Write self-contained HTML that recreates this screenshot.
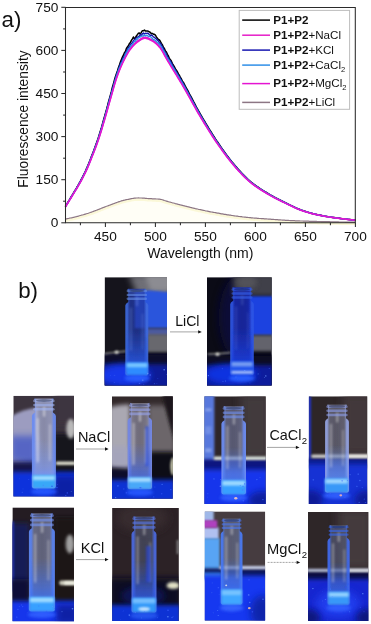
<!DOCTYPE html>
<html><head><meta charset="utf-8"><title>Figure</title>
<style>html,body{margin:0;padding:0;background:#fff;}body{width:371px;height:624px;overflow:hidden;position:relative;font-family:"Liberation Sans",sans-serif;}</style>
</head><body>
<svg width="371" height="624" viewBox="0 0 371 624" style="display:block;position:absolute;left:0;top:0" font-family="'Liberation Sans', sans-serif">
<defs><clipPath id="c0"><rect x="0" y="0" width="62.4" height="108.2"/></clipPath>
<filter id="b3" filterUnits="userSpaceOnUse" x="-20" y="-20" width="120" height="160"><feGaussianBlur stdDeviation="3"/></filter>
<filter id="b2_5" filterUnits="userSpaceOnUse" x="-20" y="-20" width="120" height="160"><feGaussianBlur stdDeviation="2.5"/></filter>
<filter id="b1_0" filterUnits="userSpaceOnUse" x="-20" y="-20" width="120" height="160"><feGaussianBlur stdDeviation="1.0"/></filter>
<filter id="b1_5" filterUnits="userSpaceOnUse" x="-20" y="-20" width="120" height="160"><feGaussianBlur stdDeviation="1.5"/></filter>
<filter id="b2" filterUnits="userSpaceOnUse" x="-20" y="-20" width="120" height="160"><feGaussianBlur stdDeviation="2"/></filter>
<filter id="b0_8" filterUnits="userSpaceOnUse" x="-20" y="-20" width="120" height="160"><feGaussianBlur stdDeviation="0.8"/></filter>
<linearGradient id="g1" x1="0" y1="0" x2="1" y2="0"><stop offset="0" stop-color="#3c68dc" stop-opacity="0.92"/><stop offset="0.09" stop-color="#3c68dc" stop-opacity="0.92"/><stop offset="0.2" stop-color="#2038a4" stop-opacity="0.8"/><stop offset="0.5" stop-color="#2038a4" stop-opacity="0.7200000000000001"/><stop offset="0.8" stop-color="#2038a4" stop-opacity="0.8"/><stop offset="0.91" stop-color="#3c68dc" stop-opacity="0.92"/><stop offset="1" stop-color="#3c68dc" stop-opacity="0.92"/></linearGradient>
<filter id="b0_45" filterUnits="userSpaceOnUse" x="-20" y="-20" width="120" height="160"><feGaussianBlur stdDeviation="0.45"/></filter>
<linearGradient id="g2" x1="0" y1="0" x2="0" y2="1"><stop offset="0" stop-color="#2858e0" stop-opacity="0"/><stop offset="0.35" stop-color="#2858e0" stop-opacity="0"/><stop offset="0.8" stop-color="#2858e0" stop-opacity="0.75"/><stop offset="1" stop-color="#2858e0" stop-opacity="0.8"/></linearGradient>
<filter id="b0_6" filterUnits="userSpaceOnUse" x="-20" y="-20" width="120" height="160"><feGaussianBlur stdDeviation="0.6"/></filter>
<filter id="b0_5" filterUnits="userSpaceOnUse" x="-20" y="-20" width="120" height="160"><feGaussianBlur stdDeviation="0.5"/></filter>
<filter id="b0_4" filterUnits="userSpaceOnUse" x="-20" y="-20" width="120" height="160"><feGaussianBlur stdDeviation="0.4"/></filter>
<filter id="b0_9" filterUnits="userSpaceOnUse" x="-20" y="-20" width="120" height="160"><feGaussianBlur stdDeviation="0.9"/></filter>
<clipPath id="c1"><rect x="0" y="0" width="64.7" height="108.3"/></clipPath>
<filter id="b4" filterUnits="userSpaceOnUse" x="-20" y="-20" width="120" height="160"><feGaussianBlur stdDeviation="4"/></filter>
<filter id="b1_2" filterUnits="userSpaceOnUse" x="-20" y="-20" width="120" height="160"><feGaussianBlur stdDeviation="1.2"/></filter>
<filter id="b1_8" filterUnits="userSpaceOnUse" x="-20" y="-20" width="120" height="160"><feGaussianBlur stdDeviation="1.8"/></filter>
<linearGradient id="g3" x1="0" y1="0" x2="1" y2="0"><stop offset="0" stop-color="#2c54e4" stop-opacity="0.92"/><stop offset="0.09" stop-color="#2c54e4" stop-opacity="0.92"/><stop offset="0.2" stop-color="#182cb4" stop-opacity="0.85"/><stop offset="0.5" stop-color="#182cb4" stop-opacity="0.765"/><stop offset="0.8" stop-color="#182cb4" stop-opacity="0.85"/><stop offset="0.91" stop-color="#2c54e4" stop-opacity="0.92"/><stop offset="1" stop-color="#2c54e4" stop-opacity="0.92"/></linearGradient>
<linearGradient id="g4" x1="0" y1="0" x2="0" y2="1"><stop offset="0" stop-color="#1c40e0" stop-opacity="0"/><stop offset="0.35" stop-color="#1c40e0" stop-opacity="0"/><stop offset="0.8" stop-color="#1c40e0" stop-opacity="0.75"/><stop offset="1" stop-color="#1c40e0" stop-opacity="0.8"/></linearGradient>
<clipPath id="c2"><rect x="0" y="0" width="60.7" height="100.6"/></clipPath>
<linearGradient id="g5" x1="0" y1="0" x2="1" y2="0"><stop offset="0" stop-color="#6c8cf0" stop-opacity="0.95"/><stop offset="0.09" stop-color="#6c8cf0" stop-opacity="0.95"/><stop offset="0.2" stop-color="#b0b8e0" stop-opacity="0.72"/><stop offset="0.5" stop-color="#b0b8e0" stop-opacity="0.648"/><stop offset="0.8" stop-color="#b0b8e0" stop-opacity="0.72"/><stop offset="0.91" stop-color="#6c8cf0" stop-opacity="0.95"/><stop offset="1" stop-color="#6c8cf0" stop-opacity="0.95"/></linearGradient>
<linearGradient id="g6" x1="0" y1="0" x2="0" y2="1"><stop offset="0" stop-color="#7894ec" stop-opacity="0"/><stop offset="0.35" stop-color="#7894ec" stop-opacity="0"/><stop offset="0.8" stop-color="#7894ec" stop-opacity="0.75"/><stop offset="1" stop-color="#7894ec" stop-opacity="0.8"/></linearGradient>
<clipPath id="c3"><rect x="0" y="0" width="60.8" height="102.5"/></clipPath>
<linearGradient id="g7" x1="0" y1="0" x2="1" y2="0"><stop offset="0" stop-color="#7488e4" stop-opacity="0.95"/><stop offset="0.09" stop-color="#7488e4" stop-opacity="0.95"/><stop offset="0.2" stop-color="#a0a0b8" stop-opacity="0.62"/><stop offset="0.5" stop-color="#a0a0b8" stop-opacity="0.558"/><stop offset="0.8" stop-color="#a0a0b8" stop-opacity="0.62"/><stop offset="0.91" stop-color="#7488e4" stop-opacity="0.95"/><stop offset="1" stop-color="#7488e4" stop-opacity="0.95"/></linearGradient>
<linearGradient id="g8" x1="0" y1="0" x2="0" y2="1"><stop offset="0" stop-color="#4c6ce0" stop-opacity="0"/><stop offset="0.35" stop-color="#4c6ce0" stop-opacity="0"/><stop offset="0.8" stop-color="#4c6ce0" stop-opacity="0.75"/><stop offset="1" stop-color="#4c6ce0" stop-opacity="0.8"/></linearGradient>
<clipPath id="c4"><rect x="0" y="0" width="61.4" height="107.8"/></clipPath>
<linearGradient id="g9" x1="0" y1="0" x2="1" y2="0"><stop offset="0" stop-color="#6c8cf0" stop-opacity="0.95"/><stop offset="0.09" stop-color="#6c8cf0" stop-opacity="0.95"/><stop offset="0.2" stop-color="#7880a8" stop-opacity="0.62"/><stop offset="0.5" stop-color="#7880a8" stop-opacity="0.558"/><stop offset="0.8" stop-color="#7880a8" stop-opacity="0.62"/><stop offset="0.91" stop-color="#6c8cf0" stop-opacity="0.95"/><stop offset="1" stop-color="#6c8cf0" stop-opacity="0.95"/></linearGradient>
<linearGradient id="g10" x1="0" y1="0" x2="0" y2="1"><stop offset="0" stop-color="#4878f0" stop-opacity="0"/><stop offset="0.35" stop-color="#4878f0" stop-opacity="0"/><stop offset="0.8" stop-color="#4878f0" stop-opacity="0.75"/><stop offset="1" stop-color="#4878f0" stop-opacity="0.8"/></linearGradient>
<clipPath id="c5"><rect x="0" y="0" width="58.4" height="107.7"/></clipPath>
<linearGradient id="g11" x1="0" y1="0" x2="1" y2="0"><stop offset="0" stop-color="#98a8e8" stop-opacity="0.9"/><stop offset="0.09" stop-color="#98a8e8" stop-opacity="0.9"/><stop offset="0.2" stop-color="#7c8098" stop-opacity="0.6"/><stop offset="0.5" stop-color="#7c8098" stop-opacity="0.54"/><stop offset="0.8" stop-color="#7c8098" stop-opacity="0.6"/><stop offset="0.91" stop-color="#98a8e8" stop-opacity="0.9"/><stop offset="1" stop-color="#98a8e8" stop-opacity="0.9"/></linearGradient>
<linearGradient id="g12" x1="0" y1="0" x2="0" y2="1"><stop offset="0" stop-color="#5888f0" stop-opacity="0"/><stop offset="0.35" stop-color="#5888f0" stop-opacity="0"/><stop offset="0.8" stop-color="#5888f0" stop-opacity="0.75"/><stop offset="1" stop-color="#5888f0" stop-opacity="0.8"/></linearGradient>
<clipPath id="c6"><rect x="0" y="0" width="61.6" height="113.8"/></clipPath>
<filter id="b1_4" filterUnits="userSpaceOnUse" x="-20" y="-20" width="120" height="160"><feGaussianBlur stdDeviation="1.4"/></filter>
<filter id="b1_3" filterUnits="userSpaceOnUse" x="-20" y="-20" width="120" height="160"><feGaussianBlur stdDeviation="1.3"/></filter>
<linearGradient id="g13" x1="0" y1="0" x2="1" y2="0"><stop offset="0" stop-color="#5c84f0" stop-opacity="0.95"/><stop offset="0.09" stop-color="#5c84f0" stop-opacity="0.95"/><stop offset="0.2" stop-color="#8890b4" stop-opacity="0.66"/><stop offset="0.5" stop-color="#8890b4" stop-opacity="0.5940000000000001"/><stop offset="0.8" stop-color="#8890b4" stop-opacity="0.66"/><stop offset="0.91" stop-color="#5c84f0" stop-opacity="0.95"/><stop offset="1" stop-color="#5c84f0" stop-opacity="0.95"/></linearGradient>
<linearGradient id="g14" x1="0" y1="0" x2="0" y2="1"><stop offset="0" stop-color="#4070f0" stop-opacity="0"/><stop offset="0.35" stop-color="#4070f0" stop-opacity="0"/><stop offset="0.8" stop-color="#4070f0" stop-opacity="0.75"/><stop offset="1" stop-color="#4070f0" stop-opacity="0.8"/></linearGradient>
<clipPath id="c7"><rect x="0" y="0" width="66.7" height="112.9"/></clipPath>
<linearGradient id="g15" x1="0" y1="0" x2="1" y2="0"><stop offset="0" stop-color="#4c6ce4" stop-opacity="0.9"/><stop offset="0.09" stop-color="#4c6ce4" stop-opacity="0.9"/><stop offset="0.2" stop-color="#545c78" stop-opacity="0.6"/><stop offset="0.5" stop-color="#545c78" stop-opacity="0.54"/><stop offset="0.8" stop-color="#545c78" stop-opacity="0.6"/><stop offset="0.91" stop-color="#4c6ce4" stop-opacity="0.9"/><stop offset="1" stop-color="#4c6ce4" stop-opacity="0.9"/></linearGradient>
<linearGradient id="g16" x1="0" y1="0" x2="0" y2="1"><stop offset="0" stop-color="#3058e0" stop-opacity="0"/><stop offset="0.35" stop-color="#3058e0" stop-opacity="0"/><stop offset="0.8" stop-color="#3058e0" stop-opacity="0.75"/><stop offset="1" stop-color="#3058e0" stop-opacity="0.8"/></linearGradient>
<clipPath id="c8"><rect x="0" y="0" width="60.4" height="109.2"/></clipPath>
<filter id="b1" filterUnits="userSpaceOnUse" x="-20" y="-20" width="120" height="160"><feGaussianBlur stdDeviation="1"/></filter>
<filter id="b3_5" filterUnits="userSpaceOnUse" x="-20" y="-20" width="120" height="160"><feGaussianBlur stdDeviation="3.5"/></filter>
<linearGradient id="g17" x1="0" y1="0" x2="1" y2="0"><stop offset="0" stop-color="#4878f0" stop-opacity="0.95"/><stop offset="0.09" stop-color="#4878f0" stop-opacity="0.95"/><stop offset="0.2" stop-color="#687498" stop-opacity="0.62"/><stop offset="0.5" stop-color="#687498" stop-opacity="0.558"/><stop offset="0.8" stop-color="#687498" stop-opacity="0.62"/><stop offset="0.91" stop-color="#4878f0" stop-opacity="0.95"/><stop offset="1" stop-color="#4878f0" stop-opacity="0.95"/></linearGradient>
<linearGradient id="g18" x1="0" y1="0" x2="0" y2="1"><stop offset="0" stop-color="#3870f8" stop-opacity="0"/><stop offset="0.35" stop-color="#3870f8" stop-opacity="0"/><stop offset="0.8" stop-color="#3870f8" stop-opacity="0.75"/><stop offset="1" stop-color="#3870f8" stop-opacity="0.8"/></linearGradient>
<clipPath id="c9"><rect x="0" y="0" width="60.3" height="108.9"/></clipPath>
<linearGradient id="g19" x1="0" y1="0" x2="1" y2="0"><stop offset="0" stop-color="#4068e8" stop-opacity="0.95"/><stop offset="0.09" stop-color="#4068e8" stop-opacity="0.95"/><stop offset="0.2" stop-color="#586080" stop-opacity="0.62"/><stop offset="0.5" stop-color="#586080" stop-opacity="0.558"/><stop offset="0.8" stop-color="#586080" stop-opacity="0.62"/><stop offset="0.91" stop-color="#4068e8" stop-opacity="0.95"/><stop offset="1" stop-color="#4068e8" stop-opacity="0.95"/></linearGradient>
<linearGradient id="g20" x1="0" y1="0" x2="0" y2="1"><stop offset="0" stop-color="#3060e8" stop-opacity="0"/><stop offset="0.35" stop-color="#3060e8" stop-opacity="0"/><stop offset="0.8" stop-color="#3060e8" stop-opacity="0.75"/><stop offset="1" stop-color="#3060e8" stop-opacity="0.8"/></linearGradient></defs>
<rect width="371" height="624" fill="#fff"/>
<path d="M65.4 219.1 L66.4 218.9 L67.4 218.7 L68.4 218.5 L69.4 218.2 L70.4 218.0 L71.4 217.8 L72.4 217.6 L73.4 217.3 L74.4 217.1 L75.4 216.8 L76.4 216.6 L77.4 216.3 L78.4 216.1 L79.4 215.8 L80.4 215.5 L81.4 215.2 L82.4 215.0 L83.4 214.7 L84.4 214.4 L85.4 214.1 L86.4 213.8 L87.4 213.5 L88.4 213.2 L89.4 212.8 L90.4 212.5 L91.4 212.1 L92.4 211.8 L93.4 211.4 L94.4 211.0 L95.4 210.6 L96.4 210.3 L97.4 209.9 L98.4 209.5 L99.4 209.1 L100.4 208.7 L101.4 208.3 L102.4 207.9 L103.4 207.5 L104.4 207.1 L105.4 206.7 L106.4 206.3 L107.4 206.0 L108.4 205.6 L109.4 205.2 L110.4 204.9 L111.4 204.5 L112.4 204.1 L113.4 203.7 L114.4 203.4 L115.4 203.0 L116.4 202.6 L117.4 202.3 L118.4 201.9 L119.4 201.6 L120.4 201.3 L121.4 200.9 L122.4 200.7 L123.4 200.4 L124.4 200.2 L125.4 199.9 L126.4 199.7 L127.4 199.5 L128.4 199.3 L129.4 199.1 L130.4 198.9 L131.4 198.7 L132.4 198.5 L133.4 198.3 L134.4 198.2 L135.4 198.1 L136.4 198.0 L137.4 198.0 L138.4 197.9 L139.4 198.0 L140.4 198.0 L141.4 198.0 L142.4 198.1 L143.4 198.2 L144.4 198.2 L145.4 198.3 L146.4 198.4 L147.4 198.5 L148.4 198.6 L149.4 198.6 L150.4 198.7 L151.4 198.7 L152.4 198.8 L153.4 198.8 L154.4 198.9 L155.4 198.9 L156.4 199.0 L157.4 199.0 L158.4 199.1 L159.4 199.2 L160.4 199.3 L161.4 199.5 L162.4 199.8 L163.4 200.1 L164.4 200.5 L165.4 200.8 L166.4 201.1 L167.4 201.4 L168.4 201.7 L169.4 202.0 L170.4 202.2 L171.4 202.5 L172.4 202.8 L173.4 203.0 L174.4 203.3 L175.4 203.6 L176.4 203.8 L177.4 204.1 L178.4 204.4 L179.4 204.6 L180.4 204.9 L181.4 205.1 L182.4 205.4 L183.4 205.7 L184.4 205.9 L185.4 206.2 L186.4 206.4 L187.4 206.7 L188.4 206.9 L189.4 207.1 L190.4 207.4 L191.4 207.6 L192.4 207.9 L193.4 208.1 L194.4 208.3 L195.4 208.6 L196.4 208.8 L197.4 209.0 L198.4 209.3 L199.4 209.5 L200.4 209.7 L201.4 209.9 L202.4 210.1 L203.4 210.3 L204.4 210.5 L205.4 210.8 L206.4 211.0 L207.4 211.2 L208.4 211.4 L209.4 211.6 L210.4 211.8 L211.4 212.0 L212.4 212.1 L213.4 212.3 L214.4 212.5 L215.4 212.7 L216.4 212.9 L217.4 213.1 L218.4 213.2 L219.4 213.4 L220.4 213.6 L221.4 213.8 L222.4 213.9 L223.4 214.1 L224.4 214.3 L225.4 214.4 L226.4 214.6 L227.4 214.8 L228.4 214.9 L229.4 215.1 L230.4 215.2 L231.4 215.4 L232.4 215.5 L233.4 215.7 L234.4 215.8 L235.4 216.0 L236.4 216.1 L237.4 216.2 L238.4 216.4 L239.4 216.5 L240.4 216.6 L241.4 216.7 L242.4 216.9 L243.4 217.0 L244.4 217.1 L245.4 217.2 L246.4 217.3 L247.4 217.4 L248.4 217.5 L249.4 217.6 L250.4 217.7 L251.4 217.8 L252.4 217.9 L253.4 218.0 L254.4 218.1 L255.4 218.2 L256.4 218.2 L257.4 218.3 L258.4 218.4 L259.4 218.5 L260.4 218.5 L261.4 218.6 L262.4 218.7 L263.4 218.7 L264.4 218.8 L265.4 218.9 L266.4 218.9 L267.4 219.0 L268.4 219.1 L269.4 219.1 L270.4 219.2 L271.4 219.3 L272.4 219.3 L273.4 219.4 L274.4 219.5 L275.4 219.6 L276.4 219.6 L277.4 219.7 L278.4 219.8 L279.4 219.8 L280.4 219.9 L281.4 220.0 L282.4 220.1 L283.4 220.1 L284.4 220.2 L285.4 220.3 L286.4 220.3 L287.4 220.4 L288.4 220.4 L289.4 220.5 L290.4 220.6 L291.4 220.6 L292.4 220.7 L293.4 220.7 L294.4 220.7 L295.4 220.8 L296.4 220.8 L297.4 220.9 L298.4 220.9 L299.4 220.9 L300.4 221.0 L301.4 221.0 L302.4 221.0 L303.4 221.1 L304.4 221.1 L305.4 221.1 L306.4 221.2 L307.4 221.2 L308.4 221.2 L309.4 221.3 L310.4 221.3 L311.4 221.3 L312.4 221.3 L313.4 221.4 L314.4 221.4 L315.4 221.4 L316.4 221.4 L317.4 221.5 L318.4 221.5 L319.4 221.5 L320.4 221.5 L321.4 221.6 L322.4 221.6 L323.4 221.6 L324.4 221.6 L325.4 221.7 L326.4 221.7 L327.4 221.7 L328.4 221.7 L329.4 221.7 L330.4 221.8 L331.4 221.8 L332.4 221.8 L333.4 221.8 L334.4 221.8 L335.4 221.9 L336.4 221.9 L337.4 221.9 L338.4 221.9 L339.4 222.0 L340.4 222.0 L341.4 222.0 L342.4 222.0 L343.4 222.0 L344.4 222.0 L345.4 222.1 L346.4 222.1 L347.4 222.1 L348.4 222.1 L349.4 222.1 L350.4 222.1 L351.4 222.2 L352.4 222.2 L353.4 222.2 L354.4 222.2 L355.4 222.2 L355.4 222.8 L65.4 222.8 Z" fill="#fffef6" stroke="none"/>
<path d="M65.4 219.1 L66.4 218.9 L67.4 218.7 L68.4 218.5 L69.4 218.2 L70.4 218.0 L71.4 217.8 L72.4 217.6 L73.4 217.3 L74.4 217.1 L75.4 216.8 L76.4 216.6 L77.4 216.3 L78.4 216.1 L79.4 215.8 L80.4 215.5 L81.4 215.2 L82.4 215.0 L83.4 214.7 L84.4 214.4 L85.4 214.1 L86.4 213.8 L87.4 213.5 L88.4 213.2 L89.4 212.8 L90.4 212.5 L91.4 212.1 L92.4 211.8 L93.4 211.4 L94.4 211.0 L95.4 210.6 L96.4 210.3 L97.4 209.9 L98.4 209.5 L99.4 209.1 L100.4 208.7 L101.4 208.3 L102.4 207.9 L103.4 207.5 L104.4 207.1 L105.4 206.7 L106.4 206.3 L107.4 206.0 L108.4 205.6 L109.4 205.2 L110.4 204.9 L111.4 204.5 L112.4 204.1 L113.4 203.7 L114.4 203.4 L115.4 203.0 L116.4 202.6 L117.4 202.3 L118.4 201.9 L119.4 201.6 L120.4 201.3 L121.4 200.9 L122.4 200.7 L123.4 200.4 L124.4 200.2 L125.4 199.9 L126.4 199.7 L127.4 199.5 L128.4 199.3 L129.4 199.1 L130.4 198.9 L131.4 198.7 L132.4 198.5 L133.4 198.3 L134.4 198.2 L135.4 198.1 L136.4 198.0 L137.4 198.0 L138.4 197.9 L139.4 198.0 L140.4 198.0 L141.4 198.0 L142.4 198.1 L143.4 198.2 L144.4 198.2 L145.4 198.3 L146.4 198.4 L147.4 198.5 L148.4 198.6 L149.4 198.6 L150.4 198.7 L151.4 198.7 L152.4 198.8 L153.4 198.8 L154.4 198.9 L155.4 198.9 L156.4 199.0 L157.4 199.0 L158.4 199.1 L159.4 199.2 L160.4 199.3 L161.4 199.5 L162.4 199.8 L163.4 200.1 L164.4 200.5 L165.4 200.8 L166.4 201.1 L167.4 201.4 L168.4 201.7 L169.4 202.0 L170.4 202.2 L171.4 202.5 L172.4 202.8 L173.4 203.0 L174.4 203.3 L175.4 203.6 L176.4 203.8 L177.4 204.1 L178.4 204.4 L179.4 204.6 L180.4 204.9 L181.4 205.1 L182.4 205.4 L183.4 205.7 L184.4 205.9 L185.4 206.2 L186.4 206.4 L187.4 206.7 L188.4 206.9 L189.4 207.1 L190.4 207.4 L191.4 207.6 L192.4 207.9 L193.4 208.1 L194.4 208.3 L195.4 208.6 L196.4 208.8 L197.4 209.0 L198.4 209.3 L199.4 209.5 L200.4 209.7 L201.4 209.9 L202.4 210.1 L203.4 210.3 L204.4 210.5 L205.4 210.8 L206.4 211.0 L207.4 211.2 L208.4 211.4 L209.4 211.6 L210.4 211.8 L211.4 212.0 L212.4 212.1 L213.4 212.3 L214.4 212.5 L215.4 212.7 L216.4 212.9 L217.4 213.1 L218.4 213.2 L219.4 213.4 L220.4 213.6 L221.4 213.8 L222.4 213.9 L223.4 214.1 L224.4 214.3 L225.4 214.4 L226.4 214.6 L227.4 214.8 L228.4 214.9 L229.4 215.1 L230.4 215.2 L231.4 215.4 L232.4 215.5 L233.4 215.7 L234.4 215.8 L235.4 216.0 L236.4 216.1 L237.4 216.2 L238.4 216.4 L239.4 216.5 L240.4 216.6 L241.4 216.7 L242.4 216.9 L243.4 217.0 L244.4 217.1 L245.4 217.2 L246.4 217.3 L247.4 217.4 L248.4 217.5 L249.4 217.6 L250.4 217.7 L251.4 217.8 L252.4 217.9 L253.4 218.0 L254.4 218.1 L255.4 218.2 L256.4 218.2 L257.4 218.3 L258.4 218.4 L259.4 218.5 L260.4 218.5 L261.4 218.6 L262.4 218.7 L263.4 218.7 L264.4 218.8 L265.4 218.9 L266.4 218.9 L267.4 219.0 L268.4 219.1 L269.4 219.1 L270.4 219.2 L271.4 219.3 L272.4 219.3 L273.4 219.4 L274.4 219.5 L275.4 219.6 L276.4 219.6 L277.4 219.7 L278.4 219.8 L279.4 219.8 L280.4 219.9 L281.4 220.0 L282.4 220.1 L283.4 220.1 L284.4 220.2 L285.4 220.3 L286.4 220.3 L287.4 220.4 L288.4 220.4 L289.4 220.5 L290.4 220.6 L291.4 220.6 L292.4 220.7 L293.4 220.7 L294.4 220.7 L295.4 220.8 L296.4 220.8 L297.4 220.9 L298.4 220.9 L299.4 220.9 L300.4 221.0 L301.4 221.0 L302.4 221.0 L303.4 221.1 L304.4 221.1 L305.4 221.1 L306.4 221.2 L307.4 221.2 L308.4 221.2 L309.4 221.3 L310.4 221.3 L311.4 221.3 L312.4 221.3 L313.4 221.4 L314.4 221.4 L315.4 221.4 L316.4 221.4 L317.4 221.5 L318.4 221.5 L319.4 221.5 L320.4 221.5 L321.4 221.6 L322.4 221.6 L323.4 221.6 L324.4 221.6 L325.4 221.7 L326.4 221.7 L327.4 221.7 L328.4 221.7 L329.4 221.7 L330.4 221.8 L331.4 221.8 L332.4 221.8 L333.4 221.8 L334.4 221.8 L335.4 221.9 L336.4 221.9 L337.4 221.9 L338.4 221.9 L339.4 222.0 L340.4 222.0 L341.4 222.0 L342.4 222.0 L343.4 222.0 L344.4 222.0 L345.4 222.1 L346.4 222.1 L347.4 222.1 L348.4 222.1 L349.4 222.1 L350.4 222.1 L351.4 222.2 L352.4 222.2 L353.4 222.2 L354.4 222.2 L355.4 222.2" transform="translate(0 1.6)" fill="none" stroke="#fbf8d8" stroke-width="2.6"/>
<g fill="none" stroke-width="1.6" stroke-linejoin="round">
<path d="M65.4 206.5 L66.4 204.9 L67.4 203.2 L68.4 201.5 L69.4 199.9 L70.4 198.2 L71.4 196.5 L72.4 194.8 L73.4 193.1 L74.4 191.5 L75.4 189.8 L76.4 188.2 L77.4 186.5 L78.4 184.7 L79.4 182.9 L80.4 181.1 L81.4 179.2 L82.4 177.3 L83.4 175.3 L84.4 173.3 L85.4 171.2 L86.4 168.9 L87.4 166.6 L88.4 164.2 L89.4 161.7 L90.4 159.2 L91.4 156.6 L92.4 154.0 L93.4 151.4 L94.4 148.7 L95.4 146.0 L96.4 143.2 L97.4 140.4 L98.4 137.4 L99.4 134.3 L100.4 131.0 L101.4 127.7 L102.4 124.1 L103.4 120.4 L104.4 117.0 L105.4 113.5 L106.4 110.0 L107.4 106.3 L108.4 102.1 L109.4 98.7 L110.4 95.2 L111.4 91.4 L112.4 87.2 L113.4 84.1 L114.4 80.3 L115.4 76.8 L116.4 73.7 L117.4 71.0 L118.4 67.8 L119.4 65.1 L120.4 62.1 L121.4 59.5 L122.4 57.1 L123.4 55.2 L124.4 52.8 L125.4 51.6 L126.4 48.5 L127.4 47.0 L128.4 45.8 L129.4 43.6 L130.4 42.6 L131.4 40.4 L132.4 38.8 L133.4 37.0 L134.4 38.6 L135.4 37.7 L136.4 36.0 L137.4 34.6 L138.4 33.3 L139.4 33.0 L140.4 34.3 L141.4 32.2 L142.4 30.7 L143.4 30.8 L144.4 30.1 L145.4 30.9 L146.4 31.1 L147.4 31.1 L148.4 31.3 L149.4 31.9 L150.4 32.5 L151.4 33.7 L152.4 33.4 L153.4 34.3 L154.4 34.3 L155.4 35.1 L156.4 36.8 L157.4 38.3 L158.4 39.5 L159.4 40.0 L160.4 41.5 L161.4 43.3 L162.4 44.9 L163.4 47.2 L164.4 48.4 L165.4 51.0 L166.4 52.1 L167.4 54.3 L168.4 56.0 L169.4 58.5 L170.4 59.7 L171.4 61.2 L172.4 63.6 L173.4 65.1 L174.4 66.8 L175.4 68.9 L176.4 70.2 L177.4 71.8 L178.4 73.9 L179.4 75.4 L180.4 77.5 L181.4 79.0 L182.4 81.1 L183.4 82.4 L184.4 84.4 L185.4 86.3 L186.4 88.2 L187.4 89.9 L188.4 91.7 L189.4 93.9 L190.4 95.6 L191.4 97.4 L192.4 99.4 L193.4 101.4 L194.4 103.2 L195.4 105.1 L196.4 107.0 L197.4 108.8 L198.4 110.6 L199.4 112.3 L200.4 114.1 L201.4 115.8 L202.4 117.6 L203.4 119.3 L204.4 121.0 L205.4 122.7 L206.4 124.3 L207.4 126.0 L208.4 127.7 L209.4 129.3 L210.4 130.9 L211.4 132.5 L212.4 134.1 L213.4 135.7 L214.4 137.2 L215.4 138.8 L216.4 140.3 L217.4 141.8 L218.4 143.2 L219.4 144.7 L220.4 146.2 L221.4 147.6 L222.4 149.1 L223.4 150.5 L224.4 151.9 L225.4 153.3 L226.4 154.6 L227.4 156.0 L228.4 157.3 L229.4 158.6 L230.4 159.9 L231.4 161.2 L232.4 162.4 L233.4 163.6 L234.4 164.8 L235.4 166.0 L236.4 167.1 L237.4 168.3 L238.4 169.4 L239.4 170.5 L240.4 171.6 L241.4 172.7 L242.4 173.8 L243.4 174.8 L244.4 175.8 L245.4 176.8 L246.4 177.8 L247.4 178.8 L248.4 179.7 L249.4 180.6 L250.4 181.5 L251.4 182.3 L252.4 183.1 L253.4 183.9 L254.4 184.6 L255.4 185.3 L256.4 186.1 L257.4 186.7 L258.4 187.4 L259.4 188.1 L260.4 188.8 L261.4 189.4 L262.4 190.1 L263.4 190.7 L264.4 191.3 L265.4 191.9 L266.4 192.5 L267.4 193.1 L268.4 193.7 L269.4 194.3 L270.4 194.9 L271.4 195.5 L272.4 196.0 L273.4 196.6 L274.4 197.1 L275.4 197.7 L276.4 198.2 L277.4 198.7 L278.4 199.2 L279.4 199.7 L280.4 200.2 L281.4 200.7 L282.4 201.2 L283.4 201.7 L284.4 202.2 L285.4 202.7 L286.4 203.2 L287.4 203.7 L288.4 204.2 L289.4 204.6 L290.4 205.1 L291.4 205.6 L292.4 206.1 L293.4 206.6 L294.4 207.1 L295.4 207.6 L296.4 208.1 L297.4 208.5 L298.4 208.9 L299.4 209.3 L300.4 209.7 L301.4 210.1 L302.4 210.4 L303.4 210.8 L304.4 211.1 L305.4 211.4 L306.4 211.8 L307.4 212.1 L308.4 212.4 L309.4 212.7 L310.4 212.9 L311.4 213.2 L312.4 213.5 L313.4 213.7 L314.4 214.0 L315.4 214.2 L316.4 214.4 L317.4 214.7 L318.4 214.9 L319.4 215.1 L320.4 215.3 L321.4 215.5 L322.4 215.7 L323.4 215.9 L324.4 216.1 L325.4 216.2 L326.4 216.4 L327.4 216.6 L328.4 216.7 L329.4 216.9 L330.4 217.1 L331.4 217.2 L332.4 217.4 L333.4 217.5 L334.4 217.6 L335.4 217.8 L336.4 217.9 L337.4 218.0 L338.4 218.2 L339.4 218.3 L340.4 218.4 L341.4 218.6 L342.4 218.7 L343.4 218.8 L344.4 218.9 L345.4 219.1 L346.4 219.2 L347.4 219.3 L348.4 219.4 L349.4 219.5 L350.4 219.6 L351.4 219.8 L352.4 219.9 L353.4 220.0 L354.4 220.1 L355.4 220.2" stroke="#000" stroke-width="1.5"/>
<path d="M65.4 206.8 L66.4 205.2 L67.4 203.5 L68.4 201.9 L69.4 200.3 L70.4 198.6 L71.4 197.0 L72.4 195.3 L73.4 193.7 L74.4 192.1 L75.4 190.4 L76.4 188.8 L77.4 187.1 L78.4 185.4 L79.4 183.7 L80.4 181.9 L81.4 180.0 L82.4 178.2 L83.4 176.2 L84.4 174.2 L85.4 172.2 L86.4 170.0 L87.4 167.8 L88.4 165.4 L89.4 163.0 L90.4 160.5 L91.4 158.0 L92.4 155.5 L93.4 152.9 L94.4 150.3 L95.4 147.7 L96.4 145.0 L97.4 142.2 L98.4 139.3 L99.4 136.3 L100.4 133.2 L101.4 129.9 L102.4 126.5 L103.4 123.1 L104.4 119.7 L105.4 116.2 L106.4 112.7 L107.4 109.1 L108.4 105.5 L109.4 102.0 L110.4 98.5 L111.4 95.0 L112.4 91.5 L113.4 87.9 L114.4 84.4 L115.4 81.1 L116.4 77.9 L117.4 75.0 L118.4 72.3 L119.4 69.7 L120.4 67.2 L121.4 64.9 L122.4 62.7 L123.4 60.6 L124.4 58.6 L125.4 56.6 L126.4 54.7 L127.4 52.9 L128.4 51.3 L129.4 49.8 L130.4 48.4 L131.4 47.2 L132.4 46.0 L133.4 44.8 L134.4 43.8 L135.4 42.8 L136.4 41.9 L137.4 41.1 L138.4 40.4 L139.4 39.8 L140.4 39.1 L141.4 38.5 L142.4 38.0 L143.4 37.6 L144.4 37.3 L145.4 37.3 L146.4 37.5 L147.4 37.8 L148.4 38.1 L149.4 38.6 L150.4 39.1 L151.4 39.6 L152.4 40.1 L153.4 40.7 L154.4 41.4 L155.4 42.2 L156.4 43.1 L157.4 44.1 L158.4 45.1 L159.4 46.2 L160.4 47.4 L161.4 48.9 L162.4 50.5 L163.4 52.3 L164.4 54.2 L165.4 56.1 L166.4 57.9 L167.4 59.6 L168.4 61.3 L169.4 62.9 L170.4 64.6 L171.4 66.2 L172.4 67.9 L173.4 69.5 L174.4 71.1 L175.4 72.8 L176.4 74.4 L177.4 76.1 L178.4 77.7 L179.4 79.4 L180.4 81.1 L181.4 82.7 L182.4 84.4 L183.4 86.1 L184.4 87.9 L185.4 89.6 L186.4 91.4 L187.4 93.2 L188.4 95.0 L189.4 96.8 L190.4 98.6 L191.4 100.4 L192.4 102.2 L193.4 104.0 L194.4 105.8 L195.4 107.6 L196.4 109.4 L197.4 111.2 L198.4 112.9 L199.4 114.7 L200.4 116.3 L201.4 118.0 L202.4 119.7 L203.4 121.3 L204.4 123.0 L205.4 124.6 L206.4 126.3 L207.4 127.9 L208.4 129.5 L209.4 131.1 L210.4 132.6 L211.4 134.2 L212.4 135.8 L213.4 137.3 L214.4 138.8 L215.4 140.3 L216.4 141.8 L217.4 143.2 L218.4 144.7 L219.4 146.1 L220.4 147.5 L221.4 148.9 L222.4 150.4 L223.4 151.7 L224.4 153.1 L225.4 154.5 L226.4 155.8 L227.4 157.2 L228.4 158.5 L229.4 159.7 L230.4 161.0 L231.4 162.2 L232.4 163.5 L233.4 164.6 L234.4 165.8 L235.4 167.0 L236.4 168.1 L237.4 169.2 L238.4 170.3 L239.4 171.4 L240.4 172.5 L241.4 173.6 L242.4 174.6 L243.4 175.6 L244.4 176.6 L245.4 177.6 L246.4 178.6 L247.4 179.5 L248.4 180.4 L249.4 181.3 L250.4 182.2 L251.4 183.0 L252.4 183.8 L253.4 184.5 L254.4 185.3 L255.4 186.0 L256.4 186.7 L257.4 187.3 L258.4 188.0 L259.4 188.7 L260.4 189.3 L261.4 190.0 L262.4 190.6 L263.4 191.2 L264.4 191.8 L265.4 192.4 L266.4 193.0 L267.4 193.6 L268.4 194.2 L269.4 194.8 L270.4 195.4 L271.4 195.9 L272.4 196.5 L273.4 197.0 L274.4 197.6 L275.4 198.1 L276.4 198.6 L277.4 199.1 L278.4 199.6 L279.4 200.1 L280.4 200.6 L281.4 201.1 L282.4 201.6 L283.4 202.1 L284.4 202.5 L285.4 203.0 L286.4 203.5 L287.4 204.0 L288.4 204.5 L289.4 205.0 L290.4 205.4 L291.4 205.9 L292.4 206.4 L293.4 206.9 L294.4 207.4 L295.4 207.9 L296.4 208.3 L297.4 208.7 L298.4 209.2 L299.4 209.6 L300.4 209.9 L301.4 210.3 L302.4 210.6 L303.4 211.0 L304.4 211.3 L305.4 211.6 L306.4 211.9 L307.4 212.2 L308.4 212.5 L309.4 212.8 L310.4 213.1 L311.4 213.4 L312.4 213.6 L313.4 213.9 L314.4 214.1 L315.4 214.3 L316.4 214.6 L317.4 214.8 L318.4 215.0 L319.4 215.2 L320.4 215.4 L321.4 215.6 L322.4 215.8 L323.4 216.0 L324.4 216.2 L325.4 216.3 L326.4 216.5 L327.4 216.7 L328.4 216.8 L329.4 217.0 L330.4 217.2 L331.4 217.3 L332.4 217.4 L333.4 217.6 L334.4 217.7 L335.4 217.9 L336.4 218.0 L337.4 218.1 L338.4 218.3 L339.4 218.4 L340.4 218.5 L341.4 218.6 L342.4 218.8 L343.4 218.9 L344.4 219.0 L345.4 219.1 L346.4 219.2 L347.4 219.4 L348.4 219.5 L349.4 219.6 L350.4 219.7 L351.4 219.8 L352.4 219.9 L353.4 220.0 L354.4 220.1 L355.4 220.2" stroke="#e61ec8"/>
<path d="M65.4 206.6 L66.4 205.0 L67.4 203.3 L68.4 201.7 L69.4 200.0 L70.4 198.4 L71.4 196.7 L72.4 195.0 L73.4 193.3 L74.4 191.7 L75.4 190.0 L76.4 188.4 L77.4 186.7 L78.4 185.0 L79.4 183.2 L80.4 181.4 L81.4 179.5 L82.4 177.6 L83.4 175.6 L84.4 173.6 L85.4 171.5 L86.4 169.3 L87.4 167.1 L88.4 164.7 L89.4 162.2 L90.4 159.7 L91.4 157.1 L92.4 154.6 L93.4 152.0 L94.4 149.3 L95.4 146.6 L96.4 143.8 L97.4 141.1 L98.4 138.1 L99.4 135.0 L100.4 131.7 L101.4 128.4 L102.4 125.0 L103.4 121.5 L104.4 118.0 L105.4 114.5 L106.4 110.8 L107.4 107.4 L108.4 103.4 L109.4 99.7 L110.4 96.3 L111.4 92.7 L112.4 89.1 L113.4 85.6 L114.4 81.9 L115.4 78.3 L116.4 75.3 L117.4 72.2 L118.4 69.4 L119.4 66.6 L120.4 63.9 L121.4 61.9 L122.4 59.4 L123.4 57.3 L124.4 55.8 L125.4 53.3 L126.4 51.3 L127.4 49.4 L128.4 47.6 L129.4 46.8 L130.4 44.7 L131.4 43.6 L132.4 42.7 L133.4 40.8 L134.4 39.6 L135.4 39.1 L136.4 37.6 L137.4 37.3 L138.4 36.4 L139.4 36.2 L140.4 34.4 L141.4 35.5 L142.4 33.9 L143.4 33.1 L144.4 34.1 L145.4 33.3 L146.4 33.4 L147.4 33.3 L148.4 33.5 L149.4 34.7 L150.4 35.6 L151.4 35.0 L152.4 35.6 L153.4 36.9 L154.4 37.4 L155.4 38.2 L156.4 39.0 L157.4 40.2 L158.4 40.8 L159.4 43.0 L160.4 43.4 L161.4 45.1 L162.4 47.1 L163.4 48.5 L164.4 51.5 L165.4 52.4 L166.4 54.5 L167.4 56.7 L168.4 58.0 L169.4 59.9 L170.4 61.0 L171.4 62.9 L172.4 64.9 L173.4 66.8 L174.4 68.5 L175.4 70.1 L176.4 71.9 L177.4 73.6 L178.4 75.3 L179.4 77.0 L180.4 78.7 L181.4 80.5 L182.4 82.2 L183.4 83.7 L184.4 85.8 L185.4 87.6 L186.4 89.3 L187.4 91.2 L188.4 93.0 L189.4 94.8 L190.4 96.7 L191.4 98.6 L192.4 100.5 L193.4 102.3 L194.4 104.2 L195.4 106.0 L196.4 107.9 L197.4 109.7 L198.4 111.4 L199.4 113.2 L200.4 114.9 L201.4 116.6 L202.4 118.3 L203.4 120.0 L204.4 121.7 L205.4 123.4 L206.4 125.0 L207.4 126.7 L208.4 128.3 L209.4 129.9 L210.4 131.5 L211.4 133.1 L212.4 134.7 L213.4 136.3 L214.4 137.8 L215.4 139.3 L216.4 140.8 L217.4 142.3 L218.4 143.8 L219.4 145.2 L220.4 146.7 L221.4 148.1 L222.4 149.5 L223.4 150.9 L224.4 152.3 L225.4 153.7 L226.4 155.1 L227.4 156.4 L228.4 157.7 L229.4 159.0 L230.4 160.3 L231.4 161.6 L232.4 162.8 L233.4 164.0 L234.4 165.2 L235.4 166.3 L236.4 167.5 L237.4 168.6 L238.4 169.7 L239.4 170.8 L240.4 171.9 L241.4 173.0 L242.4 174.1 L243.4 175.1 L244.4 176.1 L245.4 177.1 L246.4 178.1 L247.4 179.0 L248.4 180.0 L249.4 180.8 L250.4 181.7 L251.4 182.5 L252.4 183.3 L253.4 184.1 L254.4 184.8 L255.4 185.6 L256.4 186.3 L257.4 187.0 L258.4 187.6 L259.4 188.3 L260.4 189.0 L261.4 189.6 L262.4 190.2 L263.4 190.9 L264.4 191.5 L265.4 192.1 L266.4 192.7 L267.4 193.3 L268.4 193.9 L269.4 194.5 L270.4 195.1 L271.4 195.6 L272.4 196.2 L273.4 196.7 L274.4 197.3 L275.4 197.8 L276.4 198.3 L277.4 198.9 L278.4 199.4 L279.4 199.9 L280.4 200.4 L281.4 200.9 L282.4 201.3 L283.4 201.8 L284.4 202.3 L285.4 202.8 L286.4 203.3 L287.4 203.8 L288.4 204.3 L289.4 204.8 L290.4 205.3 L291.4 205.7 L292.4 206.2 L293.4 206.7 L294.4 207.2 L295.4 207.7 L296.4 208.1 L297.4 208.6 L298.4 209.0 L299.4 209.4 L300.4 209.8 L301.4 210.2 L302.4 210.5 L303.4 210.9 L304.4 211.2 L305.4 211.5 L306.4 211.8 L307.4 212.1 L308.4 212.4 L309.4 212.7 L310.4 213.0 L311.4 213.3 L312.4 213.5 L313.4 213.8 L314.4 214.0 L315.4 214.3 L316.4 214.5 L317.4 214.7 L318.4 214.9 L319.4 215.1 L320.4 215.3 L321.4 215.5 L322.4 215.7 L323.4 215.9 L324.4 216.1 L325.4 216.3 L326.4 216.4 L327.4 216.6 L328.4 216.8 L329.4 216.9 L330.4 217.1 L331.4 217.2 L332.4 217.4 L333.4 217.5 L334.4 217.7 L335.4 217.8 L336.4 217.9 L337.4 218.1 L338.4 218.2 L339.4 218.3 L340.4 218.5 L341.4 218.6 L342.4 218.7 L343.4 218.8 L344.4 219.0 L345.4 219.1 L346.4 219.2 L347.4 219.3 L348.4 219.4 L349.4 219.5 L350.4 219.7 L351.4 219.8 L352.4 219.9 L353.4 220.0 L354.4 220.1 L355.4 220.2" stroke="#1616b0" stroke-width="1.4"/>
<path d="M65.4 206.7 L66.4 205.1 L67.4 203.4 L68.4 201.8 L69.4 200.2 L70.4 198.5 L71.4 196.8 L72.4 195.2 L73.4 193.5 L74.4 191.9 L75.4 190.3 L76.4 188.6 L77.4 186.9 L78.4 185.2 L79.4 183.4 L80.4 181.6 L81.4 179.8 L82.4 177.9 L83.4 176.0 L84.4 174.0 L85.4 171.9 L86.4 169.7 L87.4 167.4 L88.4 165.1 L89.4 162.7 L90.4 160.1 L91.4 157.6 L92.4 155.0 L93.4 152.5 L94.4 149.8 L95.4 147.1 L96.4 144.4 L97.4 141.7 L98.4 138.7 L99.4 135.7 L100.4 132.6 L101.4 129.2 L102.4 125.8 L103.4 122.3 L104.4 118.9 L105.4 115.5 L106.4 111.8 L107.4 108.2 L108.4 104.8 L109.4 101.0 L110.4 97.5 L111.4 94.0 L112.4 90.3 L113.4 87.1 L114.4 83.3 L115.4 79.6 L116.4 76.4 L117.4 73.4 L118.4 70.6 L119.4 67.9 L120.4 66.0 L121.4 63.1 L122.4 61.6 L123.4 59.1 L124.4 57.5 L125.4 54.6 L126.4 52.6 L127.4 51.3 L128.4 48.9 L129.4 48.2 L130.4 46.5 L131.4 45.2 L132.4 44.5 L133.4 42.8 L134.4 41.1 L135.4 41.2 L136.4 39.6 L137.4 39.2 L138.4 37.7 L139.4 37.5 L140.4 36.8 L141.4 36.2 L142.4 35.8 L143.4 36.1 L144.4 34.7 L145.4 35.9 L146.4 35.3 L147.4 35.5 L148.4 36.5 L149.4 36.5 L150.4 36.6 L151.4 37.6 L152.4 38.4 L153.4 39.9 L154.4 39.8 L155.4 40.5 L156.4 41.4 L157.4 42.5 L158.4 43.1 L159.4 44.5 L160.4 45.6 L161.4 46.9 L162.4 49.0 L163.4 50.7 L164.4 51.9 L165.4 54.2 L166.4 56.6 L167.4 58.0 L168.4 59.6 L169.4 61.1 L170.4 63.1 L171.4 64.9 L172.4 66.6 L173.4 68.0 L174.4 69.7 L175.4 71.5 L176.4 73.2 L177.4 74.9 L178.4 76.4 L179.4 78.3 L180.4 79.8 L181.4 81.5 L182.4 83.3 L183.4 85.1 L184.4 86.7 L185.4 88.6 L186.4 90.4 L187.4 92.2 L188.4 94.1 L189.4 95.8 L190.4 97.7 L191.4 99.5 L192.4 101.4 L193.4 103.2 L194.4 105.1 L195.4 106.9 L196.4 108.6 L197.4 110.4 L198.4 112.2 L199.4 114.0 L200.4 115.7 L201.4 117.4 L202.4 119.0 L203.4 120.7 L204.4 122.4 L205.4 124.0 L206.4 125.7 L207.4 127.3 L208.4 128.9 L209.4 130.5 L210.4 132.1 L211.4 133.7 L212.4 135.3 L213.4 136.8 L214.4 138.3 L215.4 139.8 L216.4 141.3 L217.4 142.8 L218.4 144.2 L219.4 145.7 L220.4 147.1 L221.4 148.6 L222.4 150.0 L223.4 151.4 L224.4 152.8 L225.4 154.1 L226.4 155.5 L227.4 156.8 L228.4 158.1 L229.4 159.4 L230.4 160.7 L231.4 161.9 L232.4 163.2 L233.4 164.3 L234.4 165.5 L235.4 166.7 L236.4 167.8 L237.4 168.9 L238.4 170.1 L239.4 171.2 L240.4 172.2 L241.4 173.3 L242.4 174.4 L243.4 175.4 L244.4 176.4 L245.4 177.4 L246.4 178.4 L247.4 179.3 L248.4 180.2 L249.4 181.1 L250.4 182.0 L251.4 182.8 L252.4 183.6 L253.4 184.3 L254.4 185.1 L255.4 185.8 L256.4 186.5 L257.4 187.2 L258.4 187.8 L259.4 188.5 L260.4 189.2 L261.4 189.8 L262.4 190.4 L263.4 191.1 L264.4 191.7 L265.4 192.3 L266.4 192.9 L267.4 193.5 L268.4 194.1 L269.4 194.7 L270.4 195.2 L271.4 195.8 L272.4 196.3 L273.4 196.9 L274.4 197.4 L275.4 198.0 L276.4 198.5 L277.4 199.0 L278.4 199.5 L279.4 200.0 L280.4 200.5 L281.4 201.0 L282.4 201.5 L283.4 202.0 L284.4 202.4 L285.4 202.9 L286.4 203.4 L287.4 203.9 L288.4 204.4 L289.4 204.9 L290.4 205.4 L291.4 205.9 L292.4 206.3 L293.4 206.8 L294.4 207.3 L295.4 207.8 L296.4 208.2 L297.4 208.7 L298.4 209.1 L299.4 209.5 L300.4 209.9 L301.4 210.2 L302.4 210.6 L303.4 210.9 L304.4 211.3 L305.4 211.6 L306.4 211.9 L307.4 212.2 L308.4 212.5 L309.4 212.8 L310.4 213.1 L311.4 213.3 L312.4 213.6 L313.4 213.8 L314.4 214.1 L315.4 214.3 L316.4 214.5 L317.4 214.8 L318.4 215.0 L319.4 215.2 L320.4 215.4 L321.4 215.6 L322.4 215.8 L323.4 216.0 L324.4 216.1 L325.4 216.3 L326.4 216.5 L327.4 216.7 L328.4 216.8 L329.4 217.0 L330.4 217.1 L331.4 217.3 L332.4 217.4 L333.4 217.6 L334.4 217.7 L335.4 217.8 L336.4 218.0 L337.4 218.1 L338.4 218.2 L339.4 218.4 L340.4 218.5 L341.4 218.6 L342.4 218.7 L343.4 218.9 L344.4 219.0 L345.4 219.1 L346.4 219.2 L347.4 219.3 L348.4 219.5 L349.4 219.6 L350.4 219.7 L351.4 219.8 L352.4 219.9 L353.4 220.0 L354.4 220.1 L355.4 220.2" stroke="#2f8fe8" stroke-width="1.4"/>
<path d="M65.4 206.9 L66.4 205.3 L67.4 203.6 L68.4 202.0 L69.4 200.4 L70.4 198.8 L71.4 197.1 L72.4 195.5 L73.4 193.8 L74.4 192.2 L75.4 190.6 L76.4 189.0 L77.4 187.3 L78.4 185.6 L79.4 183.9 L80.4 182.1 L81.4 180.3 L82.4 178.4 L83.4 176.5 L84.4 174.5 L85.4 172.4 L86.4 170.3 L87.4 168.1 L88.4 165.7 L89.4 163.3 L90.4 160.9 L91.4 158.3 L92.4 155.8 L93.4 153.3 L94.4 150.7 L95.4 148.1 L96.4 145.4 L97.4 142.6 L98.4 139.7 L99.4 136.7 L100.4 133.6 L101.4 130.3 L102.4 127.0 L103.4 123.6 L104.4 120.2 L105.4 116.8 L106.4 113.3 L107.4 109.7 L108.4 106.1 L109.4 102.6 L110.4 99.1 L111.4 95.6 L112.4 92.1 L113.4 88.6 L114.4 85.1 L115.4 81.8 L116.4 78.6 L117.4 75.7 L118.4 73.0 L119.4 70.4 L120.4 68.0 L121.4 65.7 L122.4 63.5 L123.4 61.4 L124.4 59.4 L125.4 57.4 L126.4 55.6 L127.4 53.8 L128.4 52.1 L129.4 50.6 L130.4 49.3 L131.4 48.0 L132.4 46.8 L133.4 45.7 L134.4 44.7 L135.4 43.7 L136.4 42.8 L137.4 42.0 L138.4 41.3 L139.4 40.7 L140.4 40.0 L141.4 39.4 L142.4 38.9 L143.4 38.5 L144.4 38.3 L145.4 38.3 L146.4 38.4 L147.4 38.7 L148.4 39.1 L149.4 39.5 L150.4 40.0 L151.4 40.5 L152.4 41.0 L153.4 41.6 L154.4 42.3 L155.4 43.1 L156.4 44.0 L157.4 45.0 L158.4 46.0 L159.4 47.1 L160.4 48.3 L161.4 49.7 L162.4 51.4 L163.4 53.2 L164.4 55.1 L165.4 56.9 L166.4 58.7 L167.4 60.4 L168.4 62.1 L169.4 63.7 L170.4 65.4 L171.4 67.0 L172.4 68.6 L173.4 70.3 L174.4 71.9 L175.4 73.5 L176.4 75.2 L177.4 76.8 L178.4 78.5 L179.4 80.1 L180.4 81.8 L181.4 83.4 L182.4 85.1 L183.4 86.8 L184.4 88.5 L185.4 90.3 L186.4 92.0 L187.4 93.8 L188.4 95.6 L189.4 97.4 L190.4 99.2 L191.4 101.0 L192.4 102.8 L193.4 104.6 L194.4 106.4 L195.4 108.2 L196.4 110.0 L197.4 111.8 L198.4 113.5 L199.4 115.2 L200.4 116.9 L201.4 118.5 L202.4 120.2 L203.4 121.8 L204.4 123.5 L205.4 125.1 L206.4 126.7 L207.4 128.3 L208.4 129.9 L209.4 131.5 L210.4 133.1 L211.4 134.7 L212.4 136.2 L213.4 137.7 L214.4 139.2 L215.4 140.7 L216.4 142.2 L217.4 143.6 L218.4 145.1 L219.4 146.5 L220.4 147.9 L221.4 149.3 L222.4 150.7 L223.4 152.1 L224.4 153.5 L225.4 154.8 L226.4 156.2 L227.4 157.5 L228.4 158.8 L229.4 160.1 L230.4 161.3 L231.4 162.5 L232.4 163.8 L233.4 164.9 L234.4 166.1 L235.4 167.2 L236.4 168.4 L237.4 169.5 L238.4 170.6 L239.4 171.7 L240.4 172.8 L241.4 173.8 L242.4 174.9 L243.4 175.9 L244.4 176.9 L245.4 177.8 L246.4 178.8 L247.4 179.7 L248.4 180.6 L249.4 181.5 L250.4 182.4 L251.4 183.2 L252.4 184.0 L253.4 184.7 L254.4 185.5 L255.4 186.2 L256.4 186.9 L257.4 187.5 L258.4 188.2 L259.4 188.8 L260.4 189.5 L261.4 190.1 L262.4 190.8 L263.4 191.4 L264.4 192.0 L265.4 192.6 L266.4 193.2 L267.4 193.8 L268.4 194.4 L269.4 194.9 L270.4 195.5 L271.4 196.1 L272.4 196.6 L273.4 197.1 L274.4 197.7 L275.4 198.2 L276.4 198.7 L277.4 199.2 L278.4 199.7 L279.4 200.2 L280.4 200.7 L281.4 201.2 L282.4 201.7 L283.4 202.2 L284.4 202.6 L285.4 203.1 L286.4 203.6 L287.4 204.1 L288.4 204.6 L289.4 205.0 L290.4 205.5 L291.4 206.0 L292.4 206.5 L293.4 207.0 L294.4 207.5 L295.4 207.9 L296.4 208.4 L297.4 208.8 L298.4 209.2 L299.4 209.6 L300.4 210.0 L301.4 210.4 L302.4 210.7 L303.4 211.0 L304.4 211.4 L305.4 211.7 L306.4 212.0 L307.4 212.3 L308.4 212.6 L309.4 212.9 L310.4 213.2 L311.4 213.4 L312.4 213.7 L313.4 213.9 L314.4 214.2 L315.4 214.4 L316.4 214.6 L317.4 214.8 L318.4 215.0 L319.4 215.3 L320.4 215.5 L321.4 215.6 L322.4 215.8 L323.4 216.0 L324.4 216.2 L325.4 216.4 L326.4 216.5 L327.4 216.7 L328.4 216.9 L329.4 217.0 L330.4 217.2 L331.4 217.3 L332.4 217.5 L333.4 217.6 L334.4 217.7 L335.4 217.9 L336.4 218.0 L337.4 218.1 L338.4 218.3 L339.4 218.4 L340.4 218.5 L341.4 218.7 L342.4 218.8 L343.4 218.9 L344.4 219.0 L345.4 219.1 L346.4 219.3 L347.4 219.4 L348.4 219.5 L349.4 219.6 L350.4 219.7 L351.4 219.8 L352.4 219.9 L353.4 220.0 L354.4 220.1 L355.4 220.2" stroke="#e414d2" stroke-width="1.6"/>
<path d="M65.4 219.1 L66.4 218.9 L67.4 218.7 L68.4 218.5 L69.4 218.2 L70.4 218.0 L71.4 217.8 L72.4 217.6 L73.4 217.3 L74.4 217.1 L75.4 216.8 L76.4 216.6 L77.4 216.3 L78.4 216.1 L79.4 215.8 L80.4 215.5 L81.4 215.2 L82.4 215.0 L83.4 214.7 L84.4 214.4 L85.4 214.1 L86.4 213.8 L87.4 213.5 L88.4 213.2 L89.4 212.8 L90.4 212.5 L91.4 212.1 L92.4 211.8 L93.4 211.4 L94.4 211.0 L95.4 210.6 L96.4 210.3 L97.4 209.9 L98.4 209.5 L99.4 209.1 L100.4 208.7 L101.4 208.3 L102.4 207.9 L103.4 207.5 L104.4 207.1 L105.4 206.7 L106.4 206.3 L107.4 206.0 L108.4 205.6 L109.4 205.2 L110.4 204.9 L111.4 204.5 L112.4 204.1 L113.4 203.7 L114.4 203.4 L115.4 203.0 L116.4 202.6 L117.4 202.3 L118.4 201.9 L119.4 201.6 L120.4 201.3 L121.4 200.9 L122.4 200.7 L123.4 200.4 L124.4 200.2 L125.4 199.9 L126.4 199.7 L127.4 199.5 L128.4 199.3 L129.4 199.1 L130.4 198.9 L131.4 198.7 L132.4 198.5 L133.4 198.3 L134.4 198.2 L135.4 198.1 L136.4 198.0 L137.4 198.0 L138.4 197.9 L139.4 198.0 L140.4 198.0 L141.4 198.0 L142.4 198.1 L143.4 198.2 L144.4 198.2 L145.4 198.3 L146.4 198.4 L147.4 198.5 L148.4 198.6 L149.4 198.6 L150.4 198.7 L151.4 198.7 L152.4 198.8 L153.4 198.8 L154.4 198.9 L155.4 198.9 L156.4 199.0 L157.4 199.0 L158.4 199.1 L159.4 199.2 L160.4 199.3 L161.4 199.5 L162.4 199.8 L163.4 200.1 L164.4 200.5 L165.4 200.8 L166.4 201.1 L167.4 201.4 L168.4 201.7 L169.4 202.0 L170.4 202.2 L171.4 202.5 L172.4 202.8 L173.4 203.0 L174.4 203.3 L175.4 203.6 L176.4 203.8 L177.4 204.1 L178.4 204.4 L179.4 204.6 L180.4 204.9 L181.4 205.1 L182.4 205.4 L183.4 205.7 L184.4 205.9 L185.4 206.2 L186.4 206.4 L187.4 206.7 L188.4 206.9 L189.4 207.1 L190.4 207.4 L191.4 207.6 L192.4 207.9 L193.4 208.1 L194.4 208.3 L195.4 208.6 L196.4 208.8 L197.4 209.0 L198.4 209.3 L199.4 209.5 L200.4 209.7 L201.4 209.9 L202.4 210.1 L203.4 210.3 L204.4 210.5 L205.4 210.8 L206.4 211.0 L207.4 211.2 L208.4 211.4 L209.4 211.6 L210.4 211.8 L211.4 212.0 L212.4 212.1 L213.4 212.3 L214.4 212.5 L215.4 212.7 L216.4 212.9 L217.4 213.1 L218.4 213.2 L219.4 213.4 L220.4 213.6 L221.4 213.8 L222.4 213.9 L223.4 214.1 L224.4 214.3 L225.4 214.4 L226.4 214.6 L227.4 214.8 L228.4 214.9 L229.4 215.1 L230.4 215.2 L231.4 215.4 L232.4 215.5 L233.4 215.7 L234.4 215.8 L235.4 216.0 L236.4 216.1 L237.4 216.2 L238.4 216.4 L239.4 216.5 L240.4 216.6 L241.4 216.7 L242.4 216.9 L243.4 217.0 L244.4 217.1 L245.4 217.2 L246.4 217.3 L247.4 217.4 L248.4 217.5 L249.4 217.6 L250.4 217.7 L251.4 217.8 L252.4 217.9 L253.4 218.0 L254.4 218.1 L255.4 218.2 L256.4 218.2 L257.4 218.3 L258.4 218.4 L259.4 218.5 L260.4 218.5 L261.4 218.6 L262.4 218.7 L263.4 218.7 L264.4 218.8 L265.4 218.9 L266.4 218.9 L267.4 219.0 L268.4 219.1 L269.4 219.1 L270.4 219.2 L271.4 219.3 L272.4 219.3 L273.4 219.4 L274.4 219.5 L275.4 219.6 L276.4 219.6 L277.4 219.7 L278.4 219.8 L279.4 219.8 L280.4 219.9 L281.4 220.0 L282.4 220.1 L283.4 220.1 L284.4 220.2 L285.4 220.3 L286.4 220.3 L287.4 220.4 L288.4 220.4 L289.4 220.5 L290.4 220.6 L291.4 220.6 L292.4 220.7 L293.4 220.7 L294.4 220.7 L295.4 220.8 L296.4 220.8 L297.4 220.9 L298.4 220.9 L299.4 220.9 L300.4 221.0 L301.4 221.0 L302.4 221.0 L303.4 221.1 L304.4 221.1 L305.4 221.1 L306.4 221.2 L307.4 221.2 L308.4 221.2 L309.4 221.3 L310.4 221.3 L311.4 221.3 L312.4 221.3 L313.4 221.4 L314.4 221.4 L315.4 221.4 L316.4 221.4 L317.4 221.5 L318.4 221.5 L319.4 221.5 L320.4 221.5 L321.4 221.6 L322.4 221.6 L323.4 221.6 L324.4 221.6 L325.4 221.7 L326.4 221.7 L327.4 221.7 L328.4 221.7 L329.4 221.7 L330.4 221.8 L331.4 221.8 L332.4 221.8 L333.4 221.8 L334.4 221.8 L335.4 221.9 L336.4 221.9 L337.4 221.9 L338.4 221.9 L339.4 222.0 L340.4 222.0 L341.4 222.0 L342.4 222.0 L343.4 222.0 L344.4 222.0 L345.4 222.1 L346.4 222.1 L347.4 222.1 L348.4 222.1 L349.4 222.1 L350.4 222.1 L351.4 222.2 L352.4 222.2 L353.4 222.2 L354.4 222.2 L355.4 222.2" stroke="#8c7684" stroke-width="1.2"/>
</g>
<g stroke="#2a2a2a" stroke-width="1.05" fill="none">
<path d="M65.5 7.5 H355.3 V222.8 H65.5 Z"/>
<path d="M61.3 222.8 H65.5"/>
<path d="M63.1 201.2 H65.5"/>
<path d="M61.3 179.7 H65.5"/>
<path d="M63.1 158.2 H65.5"/>
<path d="M61.3 136.6 H65.5"/>
<path d="M63.1 115.1 H65.5"/>
<path d="M61.3 93.5 H65.5"/>
<path d="M63.1 72.0 H65.5"/>
<path d="M61.3 50.4 H65.5"/>
<path d="M63.1 28.9 H65.5"/>
<path d="M61.3 7.3 H65.5"/>
<path d="M80.4 222.8 V225.2"/>
<path d="M105.4 222.8 V227.0"/>
<path d="M130.4 222.8 V225.2"/>
<path d="M155.4 222.8 V227.0"/>
<path d="M180.4 222.8 V225.2"/>
<path d="M205.4 222.8 V227.0"/>
<path d="M230.4 222.8 V225.2"/>
<path d="M255.4 222.8 V227.0"/>
<path d="M280.4 222.8 V225.2"/>
<path d="M305.4 222.8 V227.0"/>
<path d="M330.4 222.8 V225.2"/>
<path d="M355.4 222.8 V227.0"/>
</g>
<g font-size="13.7" fill="#111">
<text x="58.4" y="227.1" text-anchor="end">0</text>
<text x="58.4" y="184.0" text-anchor="end">150</text>
<text x="58.4" y="140.9" text-anchor="end">300</text>
<text x="58.4" y="97.8" text-anchor="end">450</text>
<text x="58.4" y="54.7" text-anchor="end">600</text>
<text x="58.4" y="11.6" text-anchor="end">750</text>
<text x="105.4" y="241.0" text-anchor="middle">450</text>
<text x="155.4" y="241.0" text-anchor="middle">500</text>
<text x="205.4" y="241.0" text-anchor="middle">550</text>
<text x="255.4" y="241.0" text-anchor="middle">600</text>
<text x="305.4" y="241.0" text-anchor="middle">650</text>
<text x="355.4" y="241.0" text-anchor="middle">700</text>
</g>
<text x="200.3" y="258.4" font-size="14" text-anchor="middle" fill="#111">Wavelength (nm)</text>
<text transform="translate(27.5 119) rotate(-90)" font-size="13.8" text-anchor="middle" fill="#111">Fluorescence intensity</text>
<text x="1.5" y="27.2" font-size="22.3" fill="#111">a)</text>
<text x="18.2" y="298.3" font-size="22.3" fill="#111">b)</text>
<rect x="239.2" y="10.4" width="110.4" height="98.9" fill="#fff" stroke="#bdbdbd" stroke-width="1"/>
<path d="M242.2 20.1 H270" stroke="#000" stroke-width="1.5"/>
<text x="273.3" y="23.9" font-size="11.6" fill="#111"><tspan font-weight="bold">P1+P2</tspan></text>
<path d="M242.2 35.2 H270" stroke="#e61ec8" stroke-width="1.5"/>
<text x="273.3" y="39.0" font-size="11.6" fill="#111"><tspan font-weight="bold">P1+P2</tspan>+NaCl</text>
<path d="M242.2 50.1 H270" stroke="#1616b0" stroke-width="1.5"/>
<text x="273.3" y="53.9" font-size="11.6" fill="#111"><tspan font-weight="bold">P1+P2</tspan>+KCl</text>
<path d="M242.2 65.1 H270" stroke="#2f8fe8" stroke-width="1.5"/>
<text x="273.3" y="68.9" font-size="11.6" fill="#111"><tspan font-weight="bold">P1+P2</tspan>+CaCl<tspan font-size="7.5" dy="3">2</tspan></text>
<path d="M242.2 83.6 H270" stroke="#e414d2" stroke-width="1.5"/>
<text x="273.3" y="87.4" font-size="11.6" fill="#111"><tspan font-weight="bold">P1+P2</tspan>+MgCl<tspan font-size="7.5" dy="3">2</tspan></text>
<path d="M242.2 102.4 H270" stroke="#8c7684" stroke-width="1.5"/>
<text x="273.3" y="106.2" font-size="11.6" fill="#111"><tspan font-weight="bold">P1+P2</tspan>+LiCl</text>
<text x="175.2" y="326.4" font-size="14.1" fill="#111">LiCl</text>
<path d="M170 331.9 H199.3" stroke="#9a9a9a" stroke-width="0.9"/>
<path d="M201.8 331.9 l-3.6 -1.7 v3.4 z" fill="#111"/>
<text x="77.9" y="442.2" font-size="14.5" fill="#111">NaCl</text>
<path d="M76 449 H106.1" stroke="#9a9a9a" stroke-width="0.9"/>
<path d="M108.6 449 l-3.6 -1.7 v3.4 z" fill="#111"/>
<text x="269.4" y="440.3" font-size="14.4" fill="#111">CaCl<tspan font-size="9.6" dy="4" dx="0.4">2</tspan></text>
<path d="M267 447.4 H297.0" stroke="#9a9a9a" stroke-width="0.9"/>
<path d="M299.5 447.4 l-3.6 -1.7 v3.4 z" fill="#111"/>
<text x="80.8" y="552.6" font-size="14.6" fill="#111">KCl</text>
<path d="M76 559.6 H106.1" stroke="#9a9a9a" stroke-width="0.9"/>
<path d="M108.6 559.6 l-3.6 -1.7 v3.4 z" fill="#111"/>
<text x="267.0" y="553.5" font-size="14.7" fill="#111">MgCl<tspan font-size="9.6" dy="4" dx="0.4">2</tspan></text>
<path d="M267.6 562.4 H297.7" stroke="#9a9a9a" stroke-width="0.9" stroke-dasharray="2 1"/>
<path d="M300.2 562.4 l-3.6 -1.7 v3.4 z" fill="#111"/>
<g transform="translate(104.6 277.2)" clip-path="url(#c0)">
<rect x="0" y="0" width="63" height="109" fill="#15141c" opacity="1"/>
<path d="M24 -3 H66 V22 H34 Z" fill="#6e6e76" opacity="1" filter="url(#b3)"/>
<path d="M40 -3 H66 V14 H46 Z" fill="#8c8c92" opacity="1" filter="url(#b2_5)"/>
<path d="M30 15 L44 13 L66 15 V51 H30 Z" fill="#2c54dc" opacity="1" filter="url(#b1_0)"/>
<rect x="40" y="51" width="26" height="8" fill="#4c5aa0" opacity="1" filter="url(#b1_5)"/>
<rect x="42" y="57" width="24" height="18" fill="#68686e" opacity="1" filter="url(#b1_5)"/>
<rect x="-2" y="77" width="67" height="34" fill="#08082a" opacity="1" filter="url(#b1_5)"/>
<rect x="-2" y="87" width="67" height="24" fill="#0e1e98" opacity="1" filter="url(#b2)"/>
<ellipse cx="20" cy="98" rx="26" ry="11" fill="#1638ea" opacity="1" filter="url(#b3)"/>
<path d="M0 76.5 Q10 75 21 74" fill="none" stroke="#b8b8b0" stroke-width="1.4" stroke-linecap="round" opacity="0.8" filter="url(#b0_8)"/>
<ellipse cx="12" cy="75" rx="2.0" ry="1.8" fill="#e8e8e0" opacity="0.85" filter="url(#b0_8)"/>
<path d="M20.7 96.2 V28.3 Q20.7 26.3 23.7 24.8 V13.0 Q21.9 12.0 23.7 11.5 H40.7 Q42.5 12.0 40.7 13.0 V24.8 Q43.7 26.3 43.7 28.3 V96.2 Q43.7 98.2 41.7 98.2 H22.7 Q20.7 98.2 20.7 96.2 Z" fill="url(#g1)" filter="url(#b0_45)"/>
<rect x="22.2" y="26.3" width="20.0" height="71.9" fill="url(#g2)" filter="url(#b0_6)"/>
<rect x="25.3" y="30.3" width="2.2" height="43.2" rx="1" fill="#a0c0ff" opacity="0.21" filter="url(#b1_0)"/>
<rect x="37.0" y="36.3" width="2" height="36.0" rx="1" fill="#a0c0ff" opacity="0.17" filter="url(#b1_0)"/>
<rect x="31.2" y="19.1" width="2.4" height="10.0" rx="1" fill="#a0c0ff" opacity="0.24" filter="url(#b0_8)"/>
<rect x="22.0" y="12.6" width="20.4" height="2.4" rx="1.3" fill="#6890e8" opacity="0.6" filter="url(#b0_5)"/>
<rect x="22.0" y="16.5" width="20.4" height="2.4" rx="1.3" fill="#6890e8" opacity="0.6" filter="url(#b0_5)"/>
<rect x="22.0" y="20.4" width="20.4" height="2.4" rx="1.3" fill="#6890e8" opacity="0.6" filter="url(#b0_5)"/>
<ellipse cx="32.2" cy="13.6" rx="7.7" ry="1.3" fill="#0a0a18" opacity="0.35" filter="url(#b0_4)"/>
<ellipse cx="32.4" cy="101.1" rx="12.65" ry="3.5" fill="#2a60ff" opacity="0.9" filter="url(#b1_5)"/>
<rect x="21.599999999999998" y="85.2" width="21.6" height="12.399999999999991" fill="#2f8cff" opacity="1" filter="url(#b0_9)"/>
<rect x="22.099999999999998" y="86.0" width="20.6" height="4.091999999999997" fill="#7cc8ff" opacity="0.95" filter="url(#b0_8)"/>
<ellipse cx="9.9" cy="98.2" rx="0.79" ry="0.63" fill="#2c50f0" opacity="0.75" filter="url(#b0_4)"/>
<ellipse cx="45.6" cy="97.8" rx="0.8" ry="0.64" fill="#4a78ff" opacity="0.75" filter="url(#b0_4)"/>
<ellipse cx="5.9" cy="98.2" rx="0.42" ry="0.34" fill="#3a60ff" opacity="0.75" filter="url(#b0_4)"/>
<ellipse cx="21.5" cy="95.6" rx="0.78" ry="0.63" fill="#3a60ff" opacity="0.75" filter="url(#b0_4)"/>
<ellipse cx="59.6" cy="92.5" rx="0.85" ry="0.68" fill="#6a98ff" opacity="0.75" filter="url(#b0_4)"/>
<ellipse cx="39.2" cy="107.3" rx="0.51" ry="0.4" fill="#2c50f0" opacity="0.75" filter="url(#b0_4)"/>
<ellipse cx="34.9" cy="106.2" rx="0.81" ry="0.65" fill="#3a60ff" opacity="0.75" filter="url(#b0_4)"/>
<ellipse cx="53.2" cy="101.5" rx="0.49" ry="0.39" fill="#2c50f0" opacity="0.75" filter="url(#b0_4)"/>
<ellipse cx="10.0" cy="105.3" rx="0.48" ry="0.39" fill="#3a60ff" opacity="0.75" filter="url(#b0_4)"/>
<ellipse cx="52.3" cy="106.4" rx="0.52" ry="0.41" fill="#2c50f0" opacity="0.75" filter="url(#b0_4)"/>
<ellipse cx="49.8" cy="106.6" rx="0.59" ry="0.48" fill="#4a78ff" opacity="0.75" filter="url(#b0_4)"/>
<ellipse cx="38.2" cy="102.9" rx="0.79" ry="0.63" fill="#6a98ff" opacity="0.75" filter="url(#b0_4)"/>
<ellipse cx="43.1" cy="96.1" rx="0.74" ry="0.59" fill="#6a98ff" opacity="0.75" filter="url(#b0_4)"/>
<ellipse cx="61.9" cy="97.2" rx="0.43" ry="0.34" fill="#4a78ff" opacity="0.75" filter="url(#b0_4)"/>
</g>
<g transform="translate(207.0 277.2)" clip-path="url(#c1)">
<rect x="0" y="0" width="65" height="109" fill="#0b0b16" opacity="1"/>
<ellipse cx="30" cy="40" rx="18" ry="40" fill="#0c0c3a" opacity="0.9" filter="url(#b4)"/>
<rect x="26" y="-3" width="42" height="22" fill="#404048" opacity="1" filter="url(#b2_5)"/>
<ellipse cx="40" cy="5" rx="10" ry="7" fill="#54545c" opacity="0.9" filter="url(#b2_5)"/>
<rect x="42" y="19" width="26" height="39" fill="#1c42e0" opacity="1" filter="url(#b1_2)"/>
<rect x="44" y="58" width="24" height="16" fill="#64646c" opacity="1" filter="url(#b1_8)"/>
<rect x="-2" y="78" width="69" height="32" fill="#080820" opacity="1" filter="url(#b1_5)"/>
<rect x="-2" y="88" width="69" height="25" fill="#0c1c9c" opacity="1" filter="url(#b2)"/>
<ellipse cx="24" cy="97" rx="26" ry="10" fill="#1030e0" opacity="1" filter="url(#b3)"/>
<path d="M1 77 Q12 76.5 23 75.5" fill="none" stroke="#b8b8b0" stroke-width="1.4" stroke-linecap="round" opacity="0.8" filter="url(#b0_8)"/>
<ellipse cx="10.5" cy="77" rx="2.0" ry="1.8" fill="#e8e8e0" opacity="0.85" filter="url(#b0_8)"/>
<path d="M23.2 95.8 V27.1 Q23.2 25.1 26.2 23.6 V11.5 Q24.4 10.5 26.2 10.0 H43.8 Q45.5 10.5 43.8 11.5 V23.6 Q46.8 25.1 46.8 27.1 V95.8 Q46.8 97.8 44.8 97.8 H25.2 Q23.2 97.8 23.2 95.8 Z" fill="url(#g3)" filter="url(#b0_45)"/>
<rect x="24.8" y="25.1" width="20.5" height="72.7" fill="url(#g4)" filter="url(#b0_6)"/>
<rect x="27.9" y="29.1" width="2.2" height="43.6" rx="1" fill="#a0c0ff" opacity="0.14" filter="url(#b1_0)"/>
<rect x="39.9" y="35.1" width="2" height="36.4" rx="1" fill="#a0c0ff" opacity="0.11" filter="url(#b1_0)"/>
<rect x="34.0" y="17.8" width="2.4" height="10.2" rx="1" fill="#a0c0ff" opacity="0.16" filter="url(#b0_8)"/>
<rect x="24.6" y="11.1" width="20.9" height="2.5" rx="1.3" fill="#3460ec" opacity="0.6" filter="url(#b0_5)"/>
<rect x="24.6" y="15.1" width="20.9" height="2.5" rx="1.3" fill="#3460ec" opacity="0.6" filter="url(#b0_5)"/>
<rect x="24.6" y="19.1" width="20.9" height="2.5" rx="1.3" fill="#3460ec" opacity="0.6" filter="url(#b0_5)"/>
<ellipse cx="35.0" cy="12.1" rx="8.0" ry="1.3" fill="#0a0a18" opacity="0.35" filter="url(#b0_4)"/>
<ellipse cx="35.0" cy="101.0" rx="12.925" ry="3.5" fill="#2a60ff" opacity="0.9" filter="url(#b1_5)"/>
<rect x="23.95" y="84" width="22.1" height="13.5" fill="#2454ec" opacity="1" filter="url(#b0_9)"/>
<rect x="24.45" y="84.8" width="21.1" height="4.455" fill="#98b8f4" opacity="0.7" filter="url(#b0_8)"/>
<rect x="24.5" y="93.8" width="21.5" height="2.6" fill="#d0e0ff" opacity="0.8" filter="url(#b0_8)"/>
<ellipse cx="37.6" cy="93.5" rx="0.88" ry="0.71" fill="#6a98ff" opacity="0.75" filter="url(#b0_4)"/>
<ellipse cx="30.4" cy="101.9" rx="0.51" ry="0.41" fill="#3a60ff" opacity="0.75" filter="url(#b0_4)"/>
<ellipse cx="58.8" cy="98.7" rx="0.79" ry="0.63" fill="#6a98ff" opacity="0.75" filter="url(#b0_4)"/>
<ellipse cx="62.2" cy="91.3" rx="0.5" ry="0.4" fill="#4a78ff" opacity="0.75" filter="url(#b0_4)"/>
<ellipse cx="29.0" cy="99.7" rx="0.5" ry="0.4" fill="#6a98ff" opacity="0.75" filter="url(#b0_4)"/>
<ellipse cx="16.0" cy="104.2" rx="0.61" ry="0.49" fill="#4a78ff" opacity="0.75" filter="url(#b0_4)"/>
<ellipse cx="28.1" cy="95.5" rx="0.46" ry="0.36" fill="#6a98ff" opacity="0.75" filter="url(#b0_4)"/>
<ellipse cx="42.9" cy="105.9" rx="0.6" ry="0.48" fill="#2c50f0" opacity="0.75" filter="url(#b0_4)"/>
<ellipse cx="15.4" cy="91.4" rx="0.77" ry="0.62" fill="#2c50f0" opacity="0.75" filter="url(#b0_4)"/>
<ellipse cx="1.4" cy="98.4" rx="0.67" ry="0.53" fill="#6a98ff" opacity="0.75" filter="url(#b0_4)"/>
<ellipse cx="51.1" cy="96.7" rx="0.58" ry="0.46" fill="#6a98ff" opacity="0.75" filter="url(#b0_4)"/>
<ellipse cx="36.6" cy="92.8" rx="0.42" ry="0.33" fill="#3a60ff" opacity="0.75" filter="url(#b0_4)"/>
<ellipse cx="18.5" cy="103.7" rx="0.6" ry="0.48" fill="#6a98ff" opacity="0.75" filter="url(#b0_4)"/>
<ellipse cx="57.5" cy="100.2" rx="0.48" ry="0.39" fill="#6a98ff" opacity="0.75" filter="url(#b0_4)"/>
</g>
<g transform="translate(13.3 395.8)" clip-path="url(#c2)">
<rect x="0" y="0" width="61" height="101" fill="#3c343e" opacity="1"/>
<path d="M-3 21 Q10 13 24 12 V70 H-3 Z" fill="#9c9cc0" opacity="1" filter="url(#b1_8)"/>
<path d="M-3 40 H24 V72 Q10 68 -3 64 Z" fill="#5264c4" opacity="0.95" filter="url(#b3)"/>
<rect x="42" y="-2" width="22" height="30" fill="#3c3640" opacity="1" filter="url(#b2)"/>
<rect x="40" y="38" width="24" height="42" fill="#17171f" opacity="1" filter="url(#b2)"/>
<ellipse cx="57.5" cy="33" rx="4.5" ry="10" fill="#c0c0c0" opacity="0.95" filter="url(#b1_5)"/>
<rect x="-3" y="66" width="26" height="12" fill="#12124c" opacity="1" filter="url(#b2)"/>
<rect x="-3" y="76" width="67" height="28" fill="#1030dc" opacity="1" filter="url(#b2)"/>
<rect x="40" y="80" width="24" height="24" fill="#0c1c98" opacity="0.8" filter="url(#b3)"/>
<path d="M44 67.5 H61" fill="none" stroke="#e8e8d8" stroke-width="3.6" stroke-linecap="round" opacity="0.92" filter="url(#b1_0)"/>
<path d="M18.6 90.5 V20.1 Q18.6 18.1 21.6 16.6 V4.2 Q19.8 3.2 21.6 2.7 H39.6 Q41.4 3.2 39.6 4.2 V16.6 Q42.6 18.1 42.6 20.1 V90.5 Q42.6 92.5 40.6 92.5 H20.6 Q18.6 92.5 18.6 90.5 Z" fill="url(#g5)" filter="url(#b0_45)"/>
<rect x="20.1" y="18.1" width="21.0" height="74.4" fill="url(#g6)" filter="url(#b0_6)"/>
<rect x="23.4" y="22.1" width="2.2" height="44.7" rx="1" fill="#ffffff" opacity="0.39" filter="url(#b1_0)"/>
<rect x="35.6" y="28.1" width="2" height="37.2" rx="1" fill="#ffffff" opacity="0.30" filter="url(#b1_0)"/>
<rect x="29.6" y="10.6" width="2.4" height="10.4" rx="1" fill="#ffffff" opacity="0.44" filter="url(#b0_8)"/>
<rect x="19.9" y="3.8" width="21.4" height="2.6" rx="1.3" fill="#a0b4f4" opacity="0.6" filter="url(#b0_5)"/>
<rect x="19.9" y="7.9" width="21.4" height="2.6" rx="1.3" fill="#a0b4f4" opacity="0.6" filter="url(#b0_5)"/>
<rect x="19.9" y="12.1" width="21.4" height="2.6" rx="1.3" fill="#a0b4f4" opacity="0.6" filter="url(#b0_5)"/>
<ellipse cx="30.6" cy="4.8" rx="8.2" ry="1.3" fill="#0a0a18" opacity="0.35" filter="url(#b0_4)"/>
<ellipse cx="30.6" cy="95.8" rx="13.200000000000001" ry="3.5" fill="#2858ff" opacity="0.9" filter="url(#b1_5)"/>
<rect x="19.3" y="79.3" width="22.6" height="13.0" fill="#38a8f8" opacity="1" filter="url(#b0_9)"/>
<rect x="19.8" y="80.1" width="21.6" height="4.29" fill="#a0dcff" opacity="0.95" filter="url(#b0_8)"/>
<ellipse cx="9.7" cy="93.1" rx="0.48" ry="0.39" fill="#3a60ff" opacity="0.75" filter="url(#b0_4)"/>
<ellipse cx="23.7" cy="93.1" rx="0.68" ry="0.55" fill="#4a78ff" opacity="0.75" filter="url(#b0_4)"/>
<ellipse cx="43.7" cy="91.8" rx="0.77" ry="0.62" fill="#3a60ff" opacity="0.75" filter="url(#b0_4)"/>
<ellipse cx="44.4" cy="88.8" rx="0.51" ry="0.41" fill="#3a60ff" opacity="0.75" filter="url(#b0_4)"/>
<ellipse cx="6.0" cy="83.0" rx="0.49" ry="0.39" fill="#2c50f0" opacity="0.75" filter="url(#b0_4)"/>
<ellipse cx="54.0" cy="97.1" rx="0.76" ry="0.61" fill="#3a60ff" opacity="0.75" filter="url(#b0_4)"/>
<ellipse cx="30.0" cy="89.4" rx="0.64" ry="0.51" fill="#4a78ff" opacity="0.75" filter="url(#b0_4)"/>
<ellipse cx="15.5" cy="83.7" rx="0.57" ry="0.45" fill="#3a60ff" opacity="0.75" filter="url(#b0_4)"/>
<ellipse cx="31.1" cy="95.5" rx="0.62" ry="0.49" fill="#2c50f0" opacity="0.75" filter="url(#b0_4)"/>
<ellipse cx="8.9" cy="96.5" rx="0.58" ry="0.47" fill="#4a78ff" opacity="0.75" filter="url(#b0_4)"/>
<ellipse cx="35.7" cy="93.4" rx="0.62" ry="0.49" fill="#2c50f0" opacity="0.75" filter="url(#b0_4)"/>
<ellipse cx="57.9" cy="95.8" rx="0.53" ry="0.43" fill="#6a98ff" opacity="0.75" filter="url(#b0_4)"/>
<ellipse cx="38.7" cy="90.5" rx="0.87" ry="0.7" fill="#2c50f0" opacity="0.75" filter="url(#b0_4)"/>
<ellipse cx="52.5" cy="99.8" rx="0.66" ry="0.52" fill="#3a60ff" opacity="0.75" filter="url(#b0_4)"/>
</g>
<g transform="translate(112.0 396.3)" clip-path="url(#c3)">
<rect x="0" y="0" width="61" height="103" fill="#33292b" opacity="1"/>
<path d="M-3 11 Q8 8 18 8 V76 Q8 72 -3 68 Z" fill="#aaa8b2" opacity="1" filter="url(#b2)"/>
<rect x="-3" y="50" width="20" height="22" fill="#a4a4bc" opacity="0.9" filter="url(#b2_5)"/>
<rect x="36" y="9" width="27" height="48" fill="#6c666a" opacity="1" filter="url(#b2_5)"/>
<path d="M50 -3 H64 V48 Q57 30 50 -3 Z" fill="#1c161a" opacity="1" filter="url(#b1_5)"/>
<rect x="-3" y="72" width="67" height="14" fill="#0c0c2c" opacity="1" filter="url(#b2)"/>
<rect x="38" y="56" width="26" height="28" fill="#101014" opacity="1" filter="url(#b2)"/>
<ellipse cx="61" cy="70" rx="2.6" ry="9" fill="#e4e4c4" opacity="0.9" filter="url(#b1_2)"/>
<rect x="-3" y="83.5" width="67" height="22" fill="#1030d4" opacity="1" filter="url(#b2)"/>
<path d="M15.6 90.7 V24.4 Q15.6 22.4 18.8 20.9 V8.3 Q17.0 7.3 18.8 6.8 H36.8 Q38.6 7.3 36.8 8.3 V20.9 Q40.0 22.4 40.0 24.4 V90.7 Q40.0 92.7 38.0 92.7 H17.6 Q15.6 92.7 15.6 90.7 Z" fill="url(#g7)" filter="url(#b0_45)"/>
<rect x="17.1" y="22.4" width="21.4" height="70.3" fill="url(#g8)" filter="url(#b0_6)"/>
<rect x="20.5" y="26.4" width="2.2" height="42.2" rx="1" fill="#ffffff" opacity="0.39" filter="url(#b1_0)"/>
<rect x="32.9" y="32.4" width="2" height="35.1" rx="1" fill="#ffffff" opacity="0.30" filter="url(#b1_0)"/>
<rect x="26.8" y="14.9" width="2.4" height="10.6" rx="1" fill="#ffffff" opacity="0.44" filter="url(#b0_8)"/>
<rect x="17.1" y="7.9" width="21.4" height="2.6" rx="1.3" fill="#98a4ec" opacity="0.6" filter="url(#b0_5)"/>
<rect x="17.1" y="12.1" width="21.4" height="2.6" rx="1.3" fill="#98a4ec" opacity="0.6" filter="url(#b0_5)"/>
<rect x="17.1" y="16.3" width="21.4" height="2.6" rx="1.3" fill="#98a4ec" opacity="0.6" filter="url(#b0_5)"/>
<ellipse cx="27.8" cy="8.9" rx="8.2" ry="1.3" fill="#0a0a18" opacity="0.35" filter="url(#b0_4)"/>
<rect x="33.5" y="30" width="3" height="40" fill="#2c50ec" opacity="0.7" filter="url(#b1_0)"/>
<ellipse cx="27.8" cy="96.2" rx="13.42" ry="3.5" fill="#2858ff" opacity="0.9" filter="url(#b1_5)"/>
<rect x="16.3" y="80.8" width="23.0" height="11.900000000000006" fill="#48a8f8" opacity="1" filter="url(#b0_9)"/>
<rect x="16.8" y="81.6" width="22.0" height="3.9270000000000023" fill="#a8dcff" opacity="0.95" filter="url(#b0_8)"/>
<ellipse cx="58.8" cy="93.3" rx="0.76" ry="0.61" fill="#3a60ff" opacity="0.75" filter="url(#b0_4)"/>
<ellipse cx="41.7" cy="100.6" rx="0.77" ry="0.62" fill="#2c50f0" opacity="0.75" filter="url(#b0_4)"/>
<ellipse cx="28.2" cy="91.4" rx="0.74" ry="0.59" fill="#2c50f0" opacity="0.75" filter="url(#b0_4)"/>
<ellipse cx="5.9" cy="89.6" rx="0.81" ry="0.65" fill="#4a78ff" opacity="0.75" filter="url(#b0_4)"/>
<ellipse cx="3.6" cy="101.4" rx="0.75" ry="0.6" fill="#6a98ff" opacity="0.75" filter="url(#b0_4)"/>
<ellipse cx="11.8" cy="92.6" rx="0.77" ry="0.61" fill="#2c50f0" opacity="0.75" filter="url(#b0_4)"/>
<ellipse cx="14.4" cy="96.5" rx="0.79" ry="0.63" fill="#3a60ff" opacity="0.75" filter="url(#b0_4)"/>
<ellipse cx="6.1" cy="89.2" rx="0.51" ry="0.41" fill="#2c50f0" opacity="0.75" filter="url(#b0_4)"/>
<ellipse cx="49.7" cy="97.4" rx="0.85" ry="0.68" fill="#2c50f0" opacity="0.75" filter="url(#b0_4)"/>
<ellipse cx="32.2" cy="97.3" rx="0.55" ry="0.44" fill="#2c50f0" opacity="0.75" filter="url(#b0_4)"/>
<ellipse cx="50.1" cy="88.1" rx="0.66" ry="0.53" fill="#4a78ff" opacity="0.75" filter="url(#b0_4)"/>
<ellipse cx="29.4" cy="91.6" rx="0.82" ry="0.66" fill="#4a78ff" opacity="0.75" filter="url(#b0_4)"/>
<ellipse cx="19.0" cy="96.7" rx="0.46" ry="0.37" fill="#4a78ff" opacity="0.75" filter="url(#b0_4)"/>
<ellipse cx="42.8" cy="90.7" rx="0.67" ry="0.54" fill="#2c50f0" opacity="0.75" filter="url(#b0_4)"/>
</g>
<g transform="translate(204.3 396.3)" clip-path="url(#c4)">
<rect x="0" y="0" width="62" height="108" fill="#2e2629" opacity="1"/>
<rect x="36" y="-3" width="30" height="66" fill="#443c40" opacity="0.9" filter="url(#b4)"/>
<rect x="-2" y="-2" width="12" height="72" fill="#5878dc" opacity="1" filter="url(#b1_0)"/>
<rect x="1" y="12" width="6" height="3" fill="#90a8ec" opacity="0.8" filter="url(#b0_8)"/>
<rect x="1" y="30" width="6" height="8" fill="#7c98e8" opacity="0.7" filter="url(#b0_8)"/>
<rect x="1" y="52" width="6" height="4" fill="#90a8ec" opacity="0.8" filter="url(#b0_8)"/>
<rect x="-3" y="63" width="68" height="12" fill="#0e1880" opacity="1" filter="url(#b1_5)"/>
<rect x="-3" y="73" width="68" height="38" fill="#1636ec" opacity="1" filter="url(#b2)"/>
<ellipse cx="58" cy="104" rx="14" ry="9" fill="#0c1c90" opacity="0.85" filter="url(#b3)"/>
<path d="M11 62 H62" fill="none" stroke="#e4ece4" stroke-width="3.6" stroke-linecap="round" opacity="0.95" filter="url(#b0_9)"/>
<path d="M17.1 96.0 V27.5 Q17.1 25.5 20.1 24.0 V11.2 Q18.3 10.2 20.1 9.7 H38.6 Q40.4 10.2 38.6 11.2 V24.0 Q41.7 25.5 41.7 27.5 V96.0 Q41.7 98.0 39.7 98.0 H19.1 Q17.1 98.0 17.1 96.0 Z" fill="url(#g9)" filter="url(#b0_45)"/>
<rect x="18.6" y="25.5" width="21.6" height="72.5" fill="url(#g10)" filter="url(#b0_6)"/>
<rect x="22.0" y="29.5" width="2.2" height="43.5" rx="1" fill="#ffffff" opacity="0.32" filter="url(#b1_0)"/>
<rect x="34.6" y="35.5" width="2" height="36.3" rx="1" fill="#ffffff" opacity="0.25" filter="url(#b1_0)"/>
<rect x="28.4" y="17.8" width="2.4" height="10.7" rx="1" fill="#ffffff" opacity="0.36" filter="url(#b0_8)"/>
<rect x="18.4" y="10.8" width="21.9" height="2.6" rx="1.3" fill="#7090f0" opacity="0.6" filter="url(#b0_5)"/>
<rect x="18.4" y="15.1" width="21.9" height="2.6" rx="1.3" fill="#7090f0" opacity="0.6" filter="url(#b0_5)"/>
<rect x="18.4" y="19.3" width="21.9" height="2.6" rx="1.3" fill="#7090f0" opacity="0.6" filter="url(#b0_5)"/>
<ellipse cx="29.4" cy="11.8" rx="8.4" ry="1.3" fill="#0a0a18" opacity="0.35" filter="url(#b0_4)"/>
<ellipse cx="29.4" cy="101.5" rx="13.750000000000002" ry="3.5" fill="#3060ff" opacity="0.9" filter="url(#b1_5)"/>
<rect x="17.599999999999998" y="83.8" width="23.6" height="14.200000000000003" fill="#38a0ff" opacity="1" filter="url(#b0_9)"/>
<rect x="18.099999999999998" y="84.6" width="22.6" height="4.686000000000001" fill="#a0dcff" opacity="0.95" filter="url(#b0_8)"/>
<ellipse cx="31.5" cy="102" rx="1.6" ry="1.2" fill="#f0c8c0" opacity="0.9" filter="url(#b0_5)"/>
<ellipse cx="58.6" cy="103.3" rx="0.77" ry="0.61" fill="#3a60ff" opacity="0.75" filter="url(#b0_4)"/>
<ellipse cx="24.5" cy="78.2" rx="0.46" ry="0.37" fill="#4a78ff" opacity="0.75" filter="url(#b0_4)"/>
<ellipse cx="55.7" cy="81.0" rx="0.47" ry="0.38" fill="#4a78ff" opacity="0.75" filter="url(#b0_4)"/>
<ellipse cx="40.3" cy="87.6" rx="0.72" ry="0.58" fill="#3a60ff" opacity="0.75" filter="url(#b0_4)"/>
<ellipse cx="35.9" cy="89.3" rx="0.56" ry="0.45" fill="#3a60ff" opacity="0.75" filter="url(#b0_4)"/>
<ellipse cx="38.7" cy="89.9" rx="0.63" ry="0.51" fill="#3a60ff" opacity="0.75" filter="url(#b0_4)"/>
<ellipse cx="16.5" cy="83.2" rx="0.68" ry="0.55" fill="#4a78ff" opacity="0.75" filter="url(#b0_4)"/>
<ellipse cx="3.3" cy="100.8" rx="0.46" ry="0.37" fill="#3a60ff" opacity="0.75" filter="url(#b0_4)"/>
<ellipse cx="16.1" cy="90.0" rx="0.86" ry="0.69" fill="#6a98ff" opacity="0.75" filter="url(#b0_4)"/>
<ellipse cx="38.4" cy="93.7" rx="0.81" ry="0.65" fill="#4a78ff" opacity="0.75" filter="url(#b0_4)"/>
<ellipse cx="3.5" cy="97.4" rx="0.8" ry="0.64" fill="#2c50f0" opacity="0.75" filter="url(#b0_4)"/>
<ellipse cx="39.0" cy="104.5" rx="0.9" ry="0.72" fill="#3a60ff" opacity="0.75" filter="url(#b0_4)"/>
<ellipse cx="52.6" cy="83.3" rx="0.67" ry="0.54" fill="#4a78ff" opacity="0.75" filter="url(#b0_4)"/>
<ellipse cx="9.7" cy="82.6" rx="0.71" ry="0.57" fill="#4a78ff" opacity="0.75" filter="url(#b0_4)"/>
</g>
<g transform="translate(308.8 396.3)" clip-path="url(#c5)">
<rect x="0" y="0" width="59" height="108" fill="#2e2628" opacity="1"/>
<rect x="34" y="-3" width="30" height="62" fill="#443a3e" opacity="0.9" filter="url(#b4)"/>
<rect x="-1" y="0" width="3.2" height="66" fill="#2030c0" opacity="1" filter="url(#b0_8)"/>
<rect x="-3" y="62" width="65" height="10" fill="#0e1c90" opacity="1" filter="url(#b1_5)"/>
<rect x="-3" y="68" width="65" height="44" fill="#1430d4" opacity="1" filter="url(#b2)"/>
<ellipse cx="2" cy="104" rx="12" ry="10" fill="#0c1888" opacity="0.8" filter="url(#b3)"/>
<ellipse cx="58" cy="104" rx="12" ry="10" fill="#0c1888" opacity="0.8" filter="url(#b3)"/>
<path d="M4 60 H59" fill="none" stroke="#d4d4d0" stroke-width="3.4" stroke-linecap="round" opacity="0.95" filter="url(#b0_9)"/>
<path d="M40 60 H59" fill="none" stroke="#f4f4ec" stroke-width="3.0" stroke-linecap="round" opacity="0.8" filter="url(#b0_9)"/>
<path d="M16.3 94.2 V25.4 Q16.3 23.4 19.2 21.9 V9.6 Q17.4 8.6 19.2 8.1 H37.2 Q39.0 8.6 37.2 9.6 V21.9 Q40.1 23.4 40.1 25.4 V94.2 Q40.1 96.2 38.1 96.2 H18.3 Q16.3 96.2 16.3 94.2 Z" fill="url(#g11)" filter="url(#b0_45)"/>
<rect x="17.8" y="23.4" width="20.8" height="72.8" fill="url(#g12)" filter="url(#b0_6)"/>
<rect x="21.1" y="27.4" width="2.2" height="43.7" rx="1" fill="#ffffff" opacity="0.32" filter="url(#b1_0)"/>
<rect x="33.2" y="33.4" width="2" height="36.4" rx="1" fill="#ffffff" opacity="0.25" filter="url(#b1_0)"/>
<rect x="27.2" y="16.0" width="2.4" height="10.3" rx="1" fill="#ffffff" opacity="0.36" filter="url(#b0_8)"/>
<rect x="17.5" y="9.2" width="21.4" height="2.5" rx="1.3" fill="#8c9ce8" opacity="0.6" filter="url(#b0_5)"/>
<rect x="17.5" y="13.3" width="21.4" height="2.5" rx="1.3" fill="#8c9ce8" opacity="0.6" filter="url(#b0_5)"/>
<rect x="17.5" y="17.4" width="21.4" height="2.5" rx="1.3" fill="#8c9ce8" opacity="0.6" filter="url(#b0_5)"/>
<ellipse cx="28.2" cy="10.2" rx="8.2" ry="1.3" fill="#0a0a18" opacity="0.35" filter="url(#b0_4)"/>
<ellipse cx="27.7" cy="99.3" rx="13.585" ry="3.5" fill="#3060ff" opacity="0.9" filter="url(#b1_5)"/>
<rect x="16.049999999999997" y="82" width="23.3" height="13.799999999999997" fill="#3898f8" opacity="1" filter="url(#b0_9)"/>
<rect x="16.549999999999997" y="82.8" width="22.3" height="4.553999999999999" fill="#a0d8ff" opacity="0.95" filter="url(#b0_8)"/>
<ellipse cx="32" cy="99" rx="1.4" ry="1.1" fill="#f0b0b0" opacity="0.9" filter="url(#b0_5)"/>
<ellipse cx="51.1" cy="84.2" rx="0.8" ry="0.64" fill="#4a78ff" opacity="0.75" filter="url(#b0_4)"/>
<ellipse cx="18.8" cy="98.9" rx="0.57" ry="0.45" fill="#3a60ff" opacity="0.75" filter="url(#b0_4)"/>
<ellipse cx="49.4" cy="77.8" rx="0.84" ry="0.68" fill="#4a78ff" opacity="0.75" filter="url(#b0_4)"/>
<ellipse cx="38.6" cy="84.3" rx="0.48" ry="0.39" fill="#2c50f0" opacity="0.75" filter="url(#b0_4)"/>
<ellipse cx="36.1" cy="101.1" rx="0.65" ry="0.52" fill="#3a60ff" opacity="0.75" filter="url(#b0_4)"/>
<ellipse cx="41.3" cy="78.4" rx="0.56" ry="0.44" fill="#6a98ff" opacity="0.75" filter="url(#b0_4)"/>
<ellipse cx="4.5" cy="83.5" rx="0.81" ry="0.65" fill="#4a78ff" opacity="0.75" filter="url(#b0_4)"/>
<ellipse cx="21.4" cy="97.4" rx="0.74" ry="0.59" fill="#3a60ff" opacity="0.75" filter="url(#b0_4)"/>
<ellipse cx="56.7" cy="106.2" rx="0.77" ry="0.61" fill="#2c50f0" opacity="0.75" filter="url(#b0_4)"/>
<ellipse cx="55.5" cy="102.8" rx="0.68" ry="0.55" fill="#2c50f0" opacity="0.75" filter="url(#b0_4)"/>
<ellipse cx="48.1" cy="90.0" rx="0.7" ry="0.56" fill="#4a78ff" opacity="0.75" filter="url(#b0_4)"/>
<ellipse cx="33.3" cy="84.5" rx="0.75" ry="0.6" fill="#3a60ff" opacity="0.75" filter="url(#b0_4)"/>
<ellipse cx="53.5" cy="91.3" rx="0.83" ry="0.66" fill="#2c50f0" opacity="0.75" filter="url(#b0_4)"/>
<ellipse cx="50.4" cy="105.9" rx="0.69" ry="0.55" fill="#4a78ff" opacity="0.75" filter="url(#b0_4)"/>
</g>
<g transform="translate(12.4 507.4)" clip-path="url(#c6)">
<rect x="0" y="0" width="62" height="114" fill="#241c22" opacity="1"/>
<rect x="-3" y="16" width="20" height="60" fill="#181e56" opacity="1" filter="url(#b2_5)"/>
<rect x="-1" y="14" width="2.5" height="70" fill="#2434c0" opacity="0.9" filter="url(#b0_8)"/>
<rect x="-3" y="72" width="20" height="22" fill="#0c0c38" opacity="1" filter="url(#b2_5)"/>
<rect x="42" y="10" width="22" height="84" fill="#1a1418" opacity="1" filter="url(#b2)"/>
<ellipse cx="57.5" cy="36.5" rx="4.2" ry="9.5" fill="#a8a8a8" opacity="0.95" filter="url(#b1_4)"/>
<rect x="-3" y="93.5" width="68" height="24" fill="#1636ec" opacity="1" filter="url(#b2)"/>
<rect x="44" y="97" width="22" height="20" fill="#0c1c94" opacity="0.8" filter="url(#b3)"/>
<path d="M49 75.5 H62" fill="none" stroke="#d8d8c8" stroke-width="4.6" stroke-linecap="round" opacity="0.92" filter="url(#b1_3)"/>
<path d="M53 75.5 H62" fill="none" stroke="#f8f8ec" stroke-width="3" stroke-linecap="round" opacity="0.9" filter="url(#b1_0)"/>
<path d="M16.5 101.9 V24.4 Q16.5 22.4 19.3 20.9 V7.3 Q17.5 6.3 19.3 5.8 H39.7 Q41.5 6.3 39.7 7.3 V20.9 Q42.5 22.4 42.5 24.4 V101.9 Q42.5 103.9 40.5 103.9 H18.5 Q16.5 103.9 16.5 101.9 Z" fill="url(#g13)" filter="url(#b0_45)"/>
<rect x="18.0" y="22.4" width="23.0" height="81.5" fill="url(#g14)" filter="url(#b0_6)"/>
<rect x="21.7" y="26.4" width="2.2" height="48.9" rx="1" fill="#ffffff" opacity="0.35" filter="url(#b1_0)"/>
<rect x="35.0" y="32.4" width="2" height="40.7" rx="1" fill="#ffffff" opacity="0.28" filter="url(#b1_0)"/>
<rect x="28.5" y="14.4" width="2.4" height="11.3" rx="1" fill="#ffffff" opacity="0.40" filter="url(#b0_8)"/>
<rect x="17.6" y="6.9" width="23.8" height="2.8" rx="1.3" fill="#7494f4" opacity="0.6" filter="url(#b0_5)"/>
<rect x="17.6" y="11.4" width="23.8" height="2.8" rx="1.3" fill="#7494f4" opacity="0.6" filter="url(#b0_5)"/>
<rect x="17.6" y="16.0" width="23.8" height="2.8" rx="1.3" fill="#7494f4" opacity="0.6" filter="url(#b0_5)"/>
<ellipse cx="29.5" cy="7.9" rx="9.4" ry="1.3" fill="#0a0a18" opacity="0.35" filter="url(#b0_4)"/>
<ellipse cx="29.5" cy="107.2" rx="14.3" ry="3.5" fill="#3060ff" opacity="0.9" filter="url(#b1_5)"/>
<rect x="17.2" y="89.5" width="24.6" height="14.200000000000003" fill="#38a0ff" opacity="1" filter="url(#b0_9)"/>
<rect x="17.7" y="90.3" width="23.6" height="4.686000000000001" fill="#a0dcff" opacity="0.95" filter="url(#b0_8)"/>
<ellipse cx="43.6" cy="111.3" rx="0.41" ry="0.33" fill="#2c50f0" opacity="0.75" filter="url(#b0_4)"/>
<ellipse cx="4.4" cy="109.7" rx="0.8" ry="0.64" fill="#3a60ff" opacity="0.75" filter="url(#b0_4)"/>
<ellipse cx="49.6" cy="104.4" rx="0.62" ry="0.49" fill="#6a98ff" opacity="0.75" filter="url(#b0_4)"/>
<ellipse cx="42.4" cy="108.7" rx="0.54" ry="0.43" fill="#2c50f0" opacity="0.75" filter="url(#b0_4)"/>
<ellipse cx="39.9" cy="99.1" rx="0.58" ry="0.47" fill="#6a98ff" opacity="0.75" filter="url(#b0_4)"/>
<ellipse cx="5.5" cy="101.9" rx="0.81" ry="0.65" fill="#3a60ff" opacity="0.75" filter="url(#b0_4)"/>
<ellipse cx="9.4" cy="97.5" rx="0.45" ry="0.36" fill="#6a98ff" opacity="0.75" filter="url(#b0_4)"/>
<ellipse cx="7.0" cy="99.1" rx="0.77" ry="0.62" fill="#2c50f0" opacity="0.75" filter="url(#b0_4)"/>
<ellipse cx="42.3" cy="101.3" rx="0.53" ry="0.42" fill="#2c50f0" opacity="0.75" filter="url(#b0_4)"/>
<ellipse cx="26.5" cy="98.6" rx="0.47" ry="0.38" fill="#3a60ff" opacity="0.75" filter="url(#b0_4)"/>
<ellipse cx="10.3" cy="99.2" rx="0.68" ry="0.55" fill="#3a60ff" opacity="0.75" filter="url(#b0_4)"/>
<ellipse cx="60.1" cy="101.4" rx="0.87" ry="0.7" fill="#6a98ff" opacity="0.75" filter="url(#b0_4)"/>
<ellipse cx="34.0" cy="103.7" rx="0.59" ry="0.47" fill="#2c50f0" opacity="0.75" filter="url(#b0_4)"/>
<ellipse cx="15.4" cy="104.9" rx="0.59" ry="0.48" fill="#2c50f0" opacity="0.75" filter="url(#b0_4)"/>
</g>
<g transform="translate(112.1 508.0)" clip-path="url(#c7)">
<rect x="0" y="0" width="67" height="113" fill="#2c2226" opacity="1"/>
<ellipse cx="30" cy="10" rx="26" ry="14" fill="#3a2e30" opacity="0.8" filter="url(#b4)"/>
<rect x="64.5" y="32" width="3" height="14" fill="#808080" opacity="0.9" filter="url(#b0_8)"/>
<rect x="-3" y="70" width="72" height="32" fill="#0c0c22" opacity="1" filter="url(#b3)"/>
<ellipse cx="31" cy="88" rx="22" ry="10" fill="#101460" opacity="0.8" filter="url(#b3)"/>
<rect x="-3" y="97" width="72" height="20" fill="#1030d4" opacity="1" filter="url(#b2)"/>
<ellipse cx="61" cy="77.5" rx="6.5" ry="3.6" fill="#f0f0d0" opacity="0.95" filter="url(#b1_4)"/>
<path d="M19.4 102.4 V26.2 Q19.4 24.2 22.0 22.7 V9.7 Q20.2 8.7 22.0 8.2 H41.8 Q43.6 8.7 41.8 9.7 V22.7 Q44.4 24.2 44.4 26.2 V102.4 Q44.4 104.4 42.4 104.4 H21.4 Q19.4 104.4 19.4 102.4 Z" fill="url(#g15)" filter="url(#b0_45)"/>
<rect x="20.9" y="24.2" width="22.0" height="80.2" fill="url(#g16)" filter="url(#b0_6)"/>
<rect x="24.4" y="28.2" width="2.2" height="48.1" rx="1" fill="#ffffff" opacity="0.32" filter="url(#b1_0)"/>
<rect x="37.1" y="34.2" width="2" height="40.1" rx="1" fill="#ffffff" opacity="0.25" filter="url(#b1_0)"/>
<rect x="30.9" y="16.4" width="2.4" height="10.8" rx="1" fill="#ffffff" opacity="0.36" filter="url(#b0_8)"/>
<rect x="20.3" y="9.3" width="23.2" height="2.7" rx="1.3" fill="#5878ec" opacity="0.6" filter="url(#b0_5)"/>
<rect x="20.3" y="13.6" width="23.2" height="2.7" rx="1.3" fill="#5878ec" opacity="0.6" filter="url(#b0_5)"/>
<rect x="20.3" y="18.0" width="23.2" height="2.7" rx="1.3" fill="#5878ec" opacity="0.6" filter="url(#b0_5)"/>
<ellipse cx="31.9" cy="10.3" rx="9.1" ry="1.3" fill="#0a0a18" opacity="0.35" filter="url(#b0_4)"/>
<rect x="34" y="38" width="5" height="36" fill="#2444e4" opacity="0.6" filter="url(#b1_3)"/>
<ellipse cx="31.9" cy="107.7" rx="13.750000000000002" ry="3.5" fill="#2858f0" opacity="0.9" filter="url(#b1_5)"/>
<rect x="20.099999999999998" y="89.8" width="23.6" height="14.400000000000006" fill="#3098f8" opacity="1" filter="url(#b0_9)"/>
<rect x="20.599999999999998" y="90.6" width="22.6" height="4.7520000000000024" fill="#78c0ff" opacity="0.95" filter="url(#b0_8)"/>
<ellipse cx="32" cy="101" rx="6" ry="2" fill="#d0e8ff" opacity="0.9" filter="url(#b0_8)"/>
<ellipse cx="17.0" cy="107.0" rx="0.89" ry="0.71" fill="#2c50f0" opacity="0.75" filter="url(#b0_4)"/>
<ellipse cx="32.4" cy="103.7" rx="0.47" ry="0.38" fill="#4a78ff" opacity="0.75" filter="url(#b0_4)"/>
<ellipse cx="17.3" cy="107.1" rx="0.75" ry="0.6" fill="#6a98ff" opacity="0.75" filter="url(#b0_4)"/>
<ellipse cx="55.9" cy="102.3" rx="0.85" ry="0.68" fill="#3a60ff" opacity="0.75" filter="url(#b0_4)"/>
<ellipse cx="60.9" cy="108.8" rx="0.47" ry="0.38" fill="#6a98ff" opacity="0.75" filter="url(#b0_4)"/>
<ellipse cx="8.4" cy="111.5" rx="0.43" ry="0.35" fill="#3a60ff" opacity="0.75" filter="url(#b0_4)"/>
<ellipse cx="11.0" cy="103.2" rx="0.52" ry="0.42" fill="#2c50f0" opacity="0.75" filter="url(#b0_4)"/>
<ellipse cx="29.2" cy="109.9" rx="0.44" ry="0.35" fill="#6a98ff" opacity="0.75" filter="url(#b0_4)"/>
<ellipse cx="27.0" cy="103.5" rx="0.55" ry="0.44" fill="#4a78ff" opacity="0.75" filter="url(#b0_4)"/>
<ellipse cx="55.8" cy="108.8" rx="0.84" ry="0.68" fill="#6a98ff" opacity="0.75" filter="url(#b0_4)"/>
<ellipse cx="11.7" cy="102.6" rx="0.45" ry="0.36" fill="#2c50f0" opacity="0.75" filter="url(#b0_4)"/>
<ellipse cx="59.9" cy="109.6" rx="0.89" ry="0.71" fill="#3a60ff" opacity="0.75" filter="url(#b0_4)"/>
<ellipse cx="45.4" cy="109.6" rx="0.65" ry="0.52" fill="#2c50f0" opacity="0.75" filter="url(#b0_4)"/>
<ellipse cx="23.3" cy="104.6" rx="0.71" ry="0.56" fill="#4a78ff" opacity="0.75" filter="url(#b0_4)"/>
</g>
<g transform="translate(204.7 511.4)" clip-path="url(#c8)">
<rect x="0" y="0" width="61" height="110" fill="#463c40" opacity="1"/>
<rect x="-2" y="-2" width="11" height="12" fill="#a0b8e8" opacity="1" filter="url(#b1)"/>
<rect x="-2" y="16" width="16" height="12" fill="#b0c0f0" opacity="1" filter="url(#b1)"/>
<rect x="-2" y="27" width="17" height="34" fill="#58a4f4" opacity="1" filter="url(#b1_2)"/>
<rect x="-2" y="8.9" width="14.5" height="7.5" fill="#b040c0" opacity="1" filter="url(#b0_9)"/>
<rect x="-3" y="57" width="67" height="10" fill="#0e1258" opacity="1" filter="url(#b1_5)"/>
<rect x="-3" y="61" width="20" height="8" fill="#3c88f0" opacity="0.9" filter="url(#b1_5)"/>
<rect x="-3" y="64" width="67" height="50" fill="#1838f0" opacity="1" filter="url(#b2)"/>
<ellipse cx="58" cy="100" rx="12" ry="16" fill="#1020a0" opacity="0.85" filter="url(#b3_5)"/>
<path d="M16 56.2 H61" fill="none" stroke="#d0d8f0" stroke-width="3.3" stroke-linecap="round" opacity="0.95" filter="url(#b0_9)"/>
<path d="M16.0 91.2 V23.0 Q16.0 21.0 18.6 19.5 V8.5 Q16.8 7.5 18.6 7.0 H35.1 Q36.9 7.5 35.1 8.5 V19.5 Q37.8 21.0 37.8 23.0 V91.2 Q37.8 93.2 35.8 93.2 H18.0 Q16.0 93.2 16.0 91.2 Z" fill="url(#g17)" filter="url(#b0_45)"/>
<rect x="17.5" y="21.0" width="18.7" height="72.2" fill="url(#g18)" filter="url(#b0_6)"/>
<rect x="20.4" y="25.0" width="2.2" height="43.3" rx="1" fill="#ffffff" opacity="0.32" filter="url(#b1_0)"/>
<rect x="31.5" y="31.0" width="2" height="36.1" rx="1" fill="#ffffff" opacity="0.25" filter="url(#b1_0)"/>
<rect x="25.9" y="14.2" width="2.4" height="9.4" rx="1" fill="#ffffff" opacity="0.36" filter="url(#b0_8)"/>
<rect x="16.9" y="8.1" width="19.9" height="2.3" rx="1.3" fill="#4c78f4" opacity="0.6" filter="url(#b0_5)"/>
<rect x="16.9" y="11.8" width="19.9" height="2.3" rx="1.3" fill="#4c78f4" opacity="0.6" filter="url(#b0_5)"/>
<rect x="16.9" y="15.4" width="19.9" height="2.3" rx="1.3" fill="#4c78f4" opacity="0.6" filter="url(#b0_5)"/>
<ellipse cx="26.9" cy="9.1" rx="7.5" ry="1.3" fill="#0a0a18" opacity="0.35" filter="url(#b0_4)"/>
<ellipse cx="26.9" cy="96.5" rx="11.935" ry="3.5" fill="#3868ff" opacity="0.9" filter="url(#b1_5)"/>
<rect x="16.75" y="78" width="20.3" height="15" fill="#40a8ff" opacity="1" filter="url(#b0_9)"/>
<rect x="17.25" y="78.8" width="19.3" height="4.95" fill="#88ccff" opacity="0.75" filter="url(#b0_8)"/>
<ellipse cx="44.6" cy="96.8" rx="1.4" ry="1.1" fill="#e8b8a8" opacity="0.9" filter="url(#b0_5)"/>
<ellipse cx="21.5" cy="74" rx="1.0" ry="0.8" fill="#f0f0f0" opacity="0.8" filter="url(#b0_5)"/>
<ellipse cx="8.7" cy="101.4" rx="0.84" ry="0.67" fill="#2c50f0" opacity="0.75" filter="url(#b0_4)"/>
<ellipse cx="44.0" cy="83.5" rx="0.89" ry="0.71" fill="#6a98ff" opacity="0.75" filter="url(#b0_4)"/>
<ellipse cx="13.7" cy="76.3" rx="0.83" ry="0.66" fill="#3a60ff" opacity="0.75" filter="url(#b0_4)"/>
<ellipse cx="7.6" cy="71.5" rx="0.68" ry="0.54" fill="#2c50f0" opacity="0.75" filter="url(#b0_4)"/>
<ellipse cx="7.0" cy="81.2" rx="0.89" ry="0.72" fill="#2c50f0" opacity="0.75" filter="url(#b0_4)"/>
<ellipse cx="13.6" cy="104.1" rx="0.71" ry="0.57" fill="#4a78ff" opacity="0.75" filter="url(#b0_4)"/>
<ellipse cx="45.0" cy="91.1" rx="0.89" ry="0.72" fill="#4a78ff" opacity="0.75" filter="url(#b0_4)"/>
<ellipse cx="21.4" cy="97.6" rx="0.89" ry="0.72" fill="#3a60ff" opacity="0.75" filter="url(#b0_4)"/>
<ellipse cx="12.9" cy="99.1" rx="0.64" ry="0.52" fill="#4a78ff" opacity="0.75" filter="url(#b0_4)"/>
<ellipse cx="58.3" cy="87.8" rx="0.85" ry="0.68" fill="#4a78ff" opacity="0.75" filter="url(#b0_4)"/>
<ellipse cx="59.1" cy="75.6" rx="0.57" ry="0.46" fill="#2c50f0" opacity="0.75" filter="url(#b0_4)"/>
<ellipse cx="44.3" cy="68.4" rx="0.8" ry="0.64" fill="#3a60ff" opacity="0.75" filter="url(#b0_4)"/>
<ellipse cx="14.4" cy="82.9" rx="0.49" ry="0.39" fill="#3a60ff" opacity="0.75" filter="url(#b0_4)"/>
<ellipse cx="47.7" cy="100.4" rx="0.83" ry="0.66" fill="#3a60ff" opacity="0.75" filter="url(#b0_4)"/>
</g>
<g transform="translate(308.0 512.0)" clip-path="url(#c9)">
<rect x="0" y="0" width="61" height="109" fill="#2e2628" opacity="1"/>
<rect x="30" y="-3" width="34" height="60" fill="#463e40" opacity="0.9" filter="url(#b4)"/>
<rect x="-3" y="59" width="67" height="11" fill="#0c0c40" opacity="1" filter="url(#b1_5)"/>
<rect x="-3" y="67" width="67" height="45" fill="#1428d0" opacity="1" filter="url(#b2)"/>
<ellipse cx="30" cy="92" rx="22" ry="14" fill="#2040f0" opacity="0.9" filter="url(#b4)"/>
<ellipse cx="0" cy="106" rx="12" ry="9" fill="#0c1470" opacity="0.85" filter="url(#b3)"/>
<ellipse cx="60" cy="106" rx="12" ry="9" fill="#0c1470" opacity="0.85" filter="url(#b3)"/>
<path d="M0 58.3 H61" fill="none" stroke="#b8c0d8" stroke-width="3.2" stroke-linecap="round" opacity="0.95" filter="url(#b0_9)"/>
<path d="M36 58.3 H61" fill="none" stroke="#e4e4e4" stroke-width="2.8" stroke-linecap="round" opacity="0.8" filter="url(#b0_9)"/>
<path d="M19.5 90.8 V29.2 Q19.5 27.2 22.3 25.7 V14.4 Q20.5 13.4 22.3 12.9 H38.9 Q40.7 13.4 38.9 14.4 V25.7 Q41.7 27.2 41.7 29.2 V90.8 Q41.7 92.8 39.7 92.8 H21.5 Q19.5 92.8 19.5 90.8 Z" fill="url(#g19)" filter="url(#b0_45)"/>
<rect x="21.0" y="27.2" width="19.2" height="65.6" fill="url(#g20)" filter="url(#b0_6)"/>
<rect x="23.9" y="31.2" width="2.2" height="39.4" rx="1" fill="#ffffff" opacity="0.32" filter="url(#b1_0)"/>
<rect x="35.3" y="37.2" width="2" height="32.8" rx="1" fill="#ffffff" opacity="0.25" filter="url(#b1_0)"/>
<rect x="29.6" y="20.3" width="2.4" height="9.6" rx="1" fill="#ffffff" opacity="0.36" filter="url(#b0_8)"/>
<rect x="20.6" y="14.0" width="20.0" height="2.3" rx="1.3" fill="#3868f0" opacity="0.6" filter="url(#b0_5)"/>
<rect x="20.6" y="17.8" width="20.0" height="2.3" rx="1.3" fill="#3868f0" opacity="0.6" filter="url(#b0_5)"/>
<rect x="20.6" y="21.5" width="20.0" height="2.3" rx="1.3" fill="#3868f0" opacity="0.6" filter="url(#b0_5)"/>
<ellipse cx="30.6" cy="15.0" rx="7.5" ry="1.3" fill="#0a0a18" opacity="0.35" filter="url(#b0_4)"/>
<ellipse cx="30.6" cy="96.0" rx="12.21" ry="3.5" fill="#3060ff" opacity="0.9" filter="url(#b1_5)"/>
<rect x="20.200000000000003" y="79.7" width="20.8" height="12.799999999999997" fill="#3898f8" opacity="1" filter="url(#b0_9)"/>
<rect x="20.700000000000003" y="80.5" width="19.8" height="4.223999999999999" fill="#98d4ff" opacity="0.95" filter="url(#b0_8)"/>
<ellipse cx="17.5" cy="87.5" rx="0.67" ry="0.54" fill="#4a78ff" opacity="0.75" filter="url(#b0_4)"/>
<ellipse cx="14.4" cy="88.9" rx="0.55" ry="0.44" fill="#4a78ff" opacity="0.75" filter="url(#b0_4)"/>
<ellipse cx="47.6" cy="87.1" rx="0.54" ry="0.43" fill="#3a60ff" opacity="0.75" filter="url(#b0_4)"/>
<ellipse cx="54.8" cy="81.7" rx="0.76" ry="0.61" fill="#6a98ff" opacity="0.75" filter="url(#b0_4)"/>
<ellipse cx="4.9" cy="76.6" rx="0.79" ry="0.63" fill="#6a98ff" opacity="0.75" filter="url(#b0_4)"/>
<ellipse cx="37.7" cy="75.2" rx="0.76" ry="0.61" fill="#2c50f0" opacity="0.75" filter="url(#b0_4)"/>
<ellipse cx="52.4" cy="95.3" rx="0.62" ry="0.5" fill="#2c50f0" opacity="0.75" filter="url(#b0_4)"/>
<ellipse cx="22.4" cy="77.0" rx="0.74" ry="0.6" fill="#4a78ff" opacity="0.75" filter="url(#b0_4)"/>
<ellipse cx="24.4" cy="84.8" rx="0.64" ry="0.51" fill="#6a98ff" opacity="0.75" filter="url(#b0_4)"/>
<ellipse cx="41.7" cy="99.8" rx="0.66" ry="0.53" fill="#4a78ff" opacity="0.75" filter="url(#b0_4)"/>
<ellipse cx="40.2" cy="71.9" rx="0.63" ry="0.51" fill="#2c50f0" opacity="0.75" filter="url(#b0_4)"/>
<ellipse cx="56.0" cy="99.7" rx="0.61" ry="0.49" fill="#2c50f0" opacity="0.75" filter="url(#b0_4)"/>
<ellipse cx="19.2" cy="107.9" rx="0.49" ry="0.4" fill="#2c50f0" opacity="0.75" filter="url(#b0_4)"/>
<ellipse cx="14.4" cy="79.7" rx="0.41" ry="0.33" fill="#2c50f0" opacity="0.75" filter="url(#b0_4)"/>
</g>
</svg>
</body></html>
